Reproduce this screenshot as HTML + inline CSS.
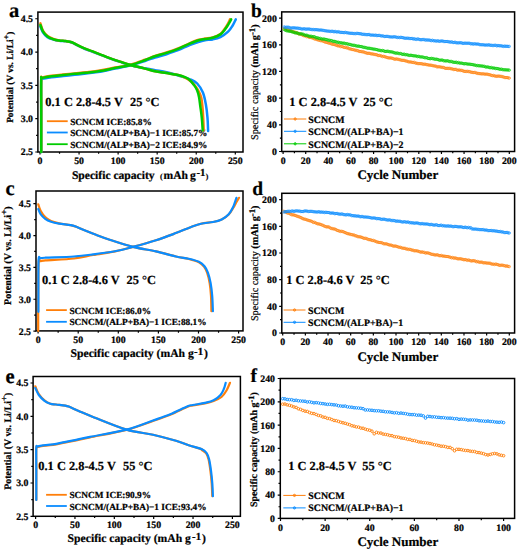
<!DOCTYPE html><html><head><meta charset="utf-8"><style>html,body{margin:0;padding:0;background:#fff;width:520px;height:550px;overflow:hidden}svg{display:block}</style></head><body><svg style="white-space:pre;text-rendering:geometricPrecision" width="520" height="550" viewBox="0 0 520 550" font-family="'Liberation Serif', serif">
<style>text{stroke:#000;stroke-width:0.22px;paint-order:stroke fill}</style>
<rect width="520" height="550" fill="#fff"/>
<rect x="37.9" y="12.1" width="205.10" height="139.90" fill="none" stroke="#000" stroke-width="1.5"/>
<path d="M40.00,152 V154.6M79.06,152 V154.6M118.12,152 V154.6M157.18,152 V154.6M196.24,152 V154.6M235.30,152 V154.6M59.53,152 V153.8M98.59,152 V153.8M137.65,152 V153.8M176.71,152 V153.8M215.77,152 V153.8M37.9,152.00 H35.3M37.9,118.69 H35.3M37.9,85.38 H35.3M37.9,52.06 H35.3M37.9,18.75 H35.3M37.9,135.34 H36.1M37.9,102.03 H36.1M37.9,68.72 H36.1M37.9,35.41 H36.1" stroke="#000" stroke-width="1.2" fill="none"/>
<text x="40.00" y="164.00" font-size="9.8" text-anchor="middle" font-weight="bold" >0</text>
<text x="79.06" y="164.00" font-size="9.8" text-anchor="middle" font-weight="bold" >50</text>
<text x="118.12" y="164.00" font-size="9.8" text-anchor="middle" font-weight="bold" >100</text>
<text x="157.18" y="164.00" font-size="9.8" text-anchor="middle" font-weight="bold" >150</text>
<text x="196.24" y="164.00" font-size="9.8" text-anchor="middle" font-weight="bold" >200</text>
<text x="235.30" y="164.00" font-size="9.8" text-anchor="middle" font-weight="bold" >250</text>
<text x="33.00" y="155.40" font-size="9.8" text-anchor="end" font-weight="bold" >2.5</text>
<text x="33.00" y="122.09" font-size="9.8" text-anchor="end" font-weight="bold" >3.0</text>
<text x="33.00" y="88.78" font-size="9.8" text-anchor="end" font-weight="bold" >3.5</text>
<text x="33.00" y="55.46" font-size="9.8" text-anchor="end" font-weight="bold" >4.0</text>
<text x="33.00" y="22.15" font-size="9.8" text-anchor="end" font-weight="bold" >4.5</text>
<text x="9.10" y="17.00" font-size="20.5" text-anchor="start" font-weight="bold" >a</text>
<text transform="translate(13.4,77.2) rotate(-90)" font-size="9.35" text-anchor="middle" font-weight="bold">Potential (V vs. Li/Li<tspan dy="-3.93" font-size="8.41">+</tspan><tspan dy="3.93">)</tspan></text>
<text x="71.9" y="179" font-size="11.6" font-weight="bold">Specific capacity</text>
<text x="160" y="178.6" font-size="7.8" font-weight="bold">(</text>
<text x="163.5" y="179" font-size="11.6" font-weight="bold">mAh</text>
<text x="190" y="179" font-size="11.6" font-weight="bold">g</text>
<text x="196.5" y="176.4" font-size="10.8" font-weight="bold">-1</text>
<text x="205.8" y="178.6" font-size="7.8" font-weight="bold">)</text>
<text x="45.30" y="105.8" font-size="12.4" font-weight="bold">0.1 C 2.8-4.5 V</text>
<text x="130.00" y="105.8" font-size="12.4" font-weight="bold">25 °C</text>
<path d="M46.9,121.2 H67.7" stroke="#FF7F0A" stroke-width="1.8"/>
<path d="M46.9,132.5 H67.7" stroke="#0A8CFF" stroke-width="1.8"/>
<path d="M46.9,144.2 H67.7" stroke="#00CC00" stroke-width="1.8"/>
<text x="70.20" y="124.60" font-size="9.3" text-anchor="start" font-weight="bold" >SCNCM ICE:85.8%</text>
<text x="70.20" y="136.00" font-size="9.3" text-anchor="start" font-weight="bold" >SCNCM/(ALP+BA)−1 ICE:85.7%</text>
<text x="70.20" y="147.50" font-size="9.3" text-anchor="start" font-weight="bold" >SCNCM/(ALP+BA)−2 ICE:84.9%</text>
<path d="M41.20,152.00 C41.20,145.00 41.20,121.83 41.20,110.00 C41.20,98.17 41.02,86.18 41.20,81.00 C41.38,75.82 40.58,79.53 42.30,78.90 C44.02,78.27 48.03,77.68 51.50,77.20 C54.97,76.72 59.25,76.40 63.10,76.00 C66.95,75.60 70.75,75.22 74.60,74.80 C78.45,74.38 81.97,74.00 86.20,73.50 C90.43,73.00 95.20,72.62 100.00,71.80 C104.80,70.98 109.90,69.67 115.00,68.60 C120.10,67.53 125.60,66.67 130.60,65.40 C135.60,64.13 140.93,62.32 145.00,61.00 C149.07,59.68 151.42,58.63 155.00,57.50 C158.58,56.37 162.65,55.42 166.50,54.20 C170.35,52.98 174.25,51.73 178.10,50.20 C181.95,48.67 186.15,46.38 189.60,45.00 C193.05,43.62 196.23,42.70 198.80,41.90 C201.37,41.10 202.68,40.62 205.00,40.20 C207.32,39.78 210.13,39.92 212.70,39.40 C215.27,38.88 217.83,38.38 220.40,37.10 C222.97,35.82 226.05,33.63 228.10,31.70 C230.15,29.77 231.42,27.55 232.70,25.50 C233.98,23.45 235.28,20.42 235.80,19.40" fill="none" stroke="#0A8CFF" stroke-width="2.5" stroke-linecap="round" stroke-linejoin="round"/>
<path d="M40.40,26.50 C40.82,27.47 41.72,30.52 42.90,32.30 C44.08,34.08 45.77,35.98 47.50,37.20 C49.23,38.42 51.37,39.00 53.30,39.60 C55.23,40.20 56.98,40.52 59.10,40.80 C61.22,41.08 63.88,41.02 66.00,41.30 C68.12,41.58 69.88,41.80 71.80,42.50 C73.72,43.20 75.38,44.45 77.50,45.50 C79.62,46.55 82.08,47.78 84.50,48.80 C86.92,49.82 89.42,50.63 92.00,51.60 C94.58,52.57 97.17,53.52 100.00,54.60 C102.83,55.68 105.67,56.88 109.00,58.10 C112.33,59.32 116.40,60.72 120.00,61.90 C123.60,63.08 126.43,64.13 130.60,65.20 C134.77,66.27 140.93,67.47 145.00,68.30 C149.07,69.13 151.42,69.55 155.00,70.20 C158.58,70.85 162.33,71.23 166.50,72.20 C170.67,73.17 176.08,74.82 180.00,76.00 C183.92,77.18 187.13,78.05 190.00,79.30 C192.87,80.55 195.05,81.28 197.20,83.50 C199.35,85.72 201.47,89.17 202.90,92.60 C204.33,96.03 205.03,99.90 205.80,104.10 C206.57,108.30 207.12,113.32 207.50,117.80 C207.88,122.28 208.00,128.80 208.10,131.00" fill="none" stroke="#0A8CFF" stroke-width="2.5" stroke-linecap="round" stroke-linejoin="round"/>
<path d="M41.20,151.60 C41.20,144.60 41.20,121.60 41.20,109.60 C41.20,97.60 41.02,84.95 41.20,79.60 C41.38,74.25 40.58,78.13 42.30,77.50 C44.02,76.87 48.03,76.28 51.50,75.80 C54.97,75.32 59.25,75.00 63.10,74.60 C66.95,74.20 70.75,73.78 74.60,73.40 C78.45,73.02 81.97,72.77 86.20,72.30 C90.43,71.83 95.20,71.38 100.00,70.60 C104.80,69.82 109.90,68.60 115.00,67.60 C120.10,66.60 125.60,65.90 130.60,64.60 C135.60,63.30 140.93,61.25 145.00,59.80 C149.07,58.35 151.42,57.12 155.00,55.90 C158.58,54.68 162.65,53.75 166.50,52.50 C170.35,51.25 174.25,49.93 178.10,48.40 C181.95,46.87 186.15,44.73 189.60,43.30 C193.05,41.87 196.23,40.58 198.80,39.80 C201.37,39.02 202.68,39.00 205.00,38.60 C207.32,38.20 210.13,38.17 212.70,37.40 C215.27,36.63 218.42,35.40 220.40,34.00 C222.38,32.60 223.40,30.60 224.60,29.00 C225.80,27.40 226.70,26.00 227.60,24.40 C228.50,22.80 229.60,20.23 230.00,19.40" fill="none" stroke="#FF7F0A" stroke-width="2.5" stroke-linecap="round" stroke-linejoin="round"/>
<path d="M40.40,23.40 C40.82,24.58 41.72,28.40 42.90,30.50 C44.08,32.60 45.77,34.58 47.50,36.00 C49.23,37.42 51.37,38.25 53.30,39.00 C55.23,39.75 56.98,40.15 59.10,40.50 C61.22,40.85 63.88,40.80 66.00,41.10 C68.12,41.40 69.88,41.62 71.80,42.30 C73.72,42.98 75.38,44.18 77.50,45.20 C79.62,46.22 82.08,47.40 84.50,48.40 C86.92,49.40 89.42,50.22 92.00,51.20 C94.58,52.18 97.17,53.20 100.00,54.30 C102.83,55.40 105.67,56.58 109.00,57.80 C112.33,59.02 116.40,60.40 120.00,61.60 C123.60,62.80 126.43,63.83 130.60,65.00 C134.77,66.17 140.93,67.55 145.00,68.60 C149.07,69.65 151.42,70.55 155.00,71.30 C158.58,72.05 162.65,72.48 166.50,73.10 C170.35,73.72 175.02,74.25 178.10,75.00 C181.18,75.75 182.85,76.52 185.00,77.60 C187.15,78.68 189.17,79.93 191.00,81.50 C192.83,83.07 194.58,85.08 196.00,87.00 C197.42,88.92 198.62,91.17 199.50,93.00 C200.38,94.83 200.82,95.77 201.30,98.00 C201.78,100.23 202.08,103.07 202.40,106.40 C202.72,109.73 202.98,114.00 203.20,118.00 C203.42,122.00 203.62,128.33 203.70,130.40" fill="none" stroke="#FF7F0A" stroke-width="2.5" stroke-linecap="round" stroke-linejoin="round"/>
<path d="M41.20,152.00 C41.20,145.00 41.20,122.00 41.20,110.00 C41.20,98.00 41.02,85.35 41.20,80.00 C41.38,74.65 40.58,78.53 42.30,77.90 C44.02,77.27 48.03,76.68 51.50,76.20 C54.97,75.72 59.25,75.40 63.10,75.00 C66.95,74.60 70.75,74.18 74.60,73.80 C78.45,73.42 81.97,73.17 86.20,72.70 C90.43,72.23 95.20,71.78 100.00,71.00 C104.80,70.22 109.90,69.00 115.00,68.00 C120.10,67.00 125.60,66.30 130.60,65.00 C135.60,63.70 140.93,61.65 145.00,60.20 C149.07,58.75 151.42,57.52 155.00,56.30 C158.58,55.08 162.65,54.15 166.50,52.90 C170.35,51.65 174.25,50.33 178.10,48.80 C181.95,47.27 186.15,45.13 189.60,43.70 C193.05,42.27 196.23,40.98 198.80,40.20 C201.37,39.42 202.68,39.40 205.00,39.00 C207.32,38.60 210.13,38.57 212.70,37.80 C215.27,37.03 218.35,35.80 220.40,34.40 C222.45,33.00 223.72,31.00 225.00,29.40 C226.28,27.80 227.07,26.47 228.10,24.80 C229.13,23.13 230.68,20.30 231.20,19.40" fill="none" stroke="#00CC00" stroke-width="2.5" stroke-linecap="round" stroke-linejoin="round"/>
<path d="M40.40,25.00 C40.82,26.05 41.72,29.38 42.90,31.30 C44.08,33.22 45.77,35.18 47.50,36.50 C49.23,37.82 51.37,38.53 53.30,39.20 C55.23,39.87 56.98,40.18 59.10,40.50 C61.22,40.82 63.88,40.80 66.00,41.10 C68.12,41.40 69.88,41.62 71.80,42.30 C73.72,42.98 75.38,44.18 77.50,45.20 C79.62,46.22 82.08,47.40 84.50,48.40 C86.92,49.40 89.42,50.22 92.00,51.20 C94.58,52.18 97.17,53.20 100.00,54.30 C102.83,55.40 105.67,56.58 109.00,57.80 C112.33,59.02 116.40,60.40 120.00,61.60 C123.60,62.80 126.43,63.83 130.60,65.00 C134.77,66.17 140.93,67.55 145.00,68.60 C149.07,69.65 151.42,70.55 155.00,71.30 C158.58,72.05 162.65,72.48 166.50,73.10 C170.35,73.72 175.02,74.32 178.10,75.00 C181.18,75.68 183.02,76.33 185.00,77.20 C186.98,78.07 188.50,78.90 190.00,80.20 C191.50,81.50 192.83,83.37 194.00,85.00 C195.17,86.63 196.17,88.00 197.00,90.00 C197.83,92.00 198.45,94.27 199.00,97.00 C199.55,99.73 199.83,102.93 200.30,106.40 C200.77,109.87 201.40,113.80 201.80,117.80 C202.20,121.80 202.55,128.30 202.70,130.40" fill="none" stroke="#00CC00" stroke-width="2.5" stroke-linecap="round" stroke-linejoin="round"/>
<rect x="281.7" y="11.9" width="232.90" height="139.60" fill="none" stroke="#000" stroke-width="1.5"/>
<path d="M283.10,151.5 V154.1M305.72,151.5 V154.1M328.34,151.5 V154.1M350.96,151.5 V154.1M373.58,151.5 V154.1M396.20,151.5 V154.1M418.82,151.5 V154.1M441.44,151.5 V154.1M464.06,151.5 V154.1M486.68,151.5 V154.1M509.30,151.5 V154.1M294.41,151.5 V153.3M317.03,151.5 V153.3M339.65,151.5 V153.3M362.27,151.5 V153.3M384.89,151.5 V153.3M407.51,151.5 V153.3M430.13,151.5 V153.3M452.75,151.5 V153.3M475.37,151.5 V153.3M497.99,151.5 V153.3M281.7,151.50 H279.09999999999997M281.7,124.82 H279.09999999999997M281.7,98.14 H279.09999999999997M281.7,71.46 H279.09999999999997M281.7,44.78 H279.09999999999997M281.7,18.10 H279.09999999999997M281.7,138.16 H279.9M281.7,111.48 H279.9M281.7,84.80 H279.9M281.7,58.12 H279.9M281.7,31.44 H279.9" stroke="#000" stroke-width="1.2" fill="none"/>
<text x="283.10" y="164.20" font-size="9.8" text-anchor="middle" font-weight="bold" >0</text>
<text x="305.72" y="164.20" font-size="9.8" text-anchor="middle" font-weight="bold" >20</text>
<text x="328.34" y="164.20" font-size="9.8" text-anchor="middle" font-weight="bold" >40</text>
<text x="350.96" y="164.20" font-size="9.8" text-anchor="middle" font-weight="bold" >60</text>
<text x="373.58" y="164.20" font-size="9.8" text-anchor="middle" font-weight="bold" >80</text>
<text x="396.20" y="164.20" font-size="9.8" text-anchor="middle" font-weight="bold" >100</text>
<text x="418.82" y="164.20" font-size="9.8" text-anchor="middle" font-weight="bold" >120</text>
<text x="441.44" y="164.20" font-size="9.8" text-anchor="middle" font-weight="bold" >140</text>
<text x="464.06" y="164.20" font-size="9.8" text-anchor="middle" font-weight="bold" >160</text>
<text x="486.68" y="164.20" font-size="9.8" text-anchor="middle" font-weight="bold" >180</text>
<text x="509.30" y="164.20" font-size="9.8" text-anchor="middle" font-weight="bold" >200</text>
<text x="276.80" y="154.90" font-size="9.8" text-anchor="end" font-weight="bold" >0</text>
<text x="276.80" y="128.22" font-size="9.8" text-anchor="end" font-weight="bold" >40</text>
<text x="276.80" y="101.54" font-size="9.8" text-anchor="end" font-weight="bold" >80</text>
<text x="276.80" y="74.86" font-size="9.8" text-anchor="end" font-weight="bold" >120</text>
<text x="276.80" y="48.18" font-size="9.8" text-anchor="end" font-weight="bold" >160</text>
<text x="276.80" y="21.50" font-size="9.8" text-anchor="end" font-weight="bold" >200</text>
<text x="251.00" y="16.60" font-size="19.5" text-anchor="start" font-weight="bold" >b</text>
<text transform="translate(257.8,82.2) rotate(-90)" font-size="10.2" text-anchor="middle" font-weight="normal">Specific capacity <tspan font-weight="bold">(mAh g<tspan dy="-3.26" font-size="8.67">-1</tspan><tspan dy="3.26">)</tspan></tspan></text>
<text x="357.40" y="178.70" font-size="13.05" text-anchor="start" font-weight="bold" >Cycle Number</text>
<text x="289.30" y="105.8" font-size="12.4" font-weight="bold">1 C 2.8-4.5 V</text>
<text x="363.20" y="105.8" font-size="12.4" font-weight="bold">25 °C</text>
<path d="M284,119 H306.3" stroke="#FF7F0A" stroke-width="1.0"/>
<circle cx="295.15" cy="119" r="1.15" fill="#FF7F0A" fill-opacity="0.45" stroke="#FF7F0A" stroke-width="0.85"/>
<path d="M284,131.3 H306.3" stroke="#0A8CFF" stroke-width="1.0"/>
<circle cx="295.15" cy="131.3" r="1.15" fill="#0A8CFF" fill-opacity="0.45" stroke="#0A8CFF" stroke-width="0.85"/>
<path d="M284,143.8 H306.3" stroke="#00CC00" stroke-width="1.0"/>
<circle cx="295.15" cy="143.8" r="1.15" fill="#00CC00" fill-opacity="0.45" stroke="#00CC00" stroke-width="0.85"/>
<text x="308.30" y="122.90" font-size="9.9" text-anchor="start" font-weight="bold" >SCNCM</text>
<text x="308.30" y="135.20" font-size="9.9" text-anchor="start" font-weight="bold" >SCNCM/(ALP+BA)−1</text>
<text x="308.30" y="147.50" font-size="9.9" text-anchor="start" font-weight="bold" >SCNCM/(ALP+BA)−2</text>
<path d="M283.03,28.52 a1.2,1.2 0 1,0 2.40,0 a1.2,1.2 0 1,0 -2.40,0 M284.16,28.81 a1.2,1.2 0 1,0 2.40,0 a1.2,1.2 0 1,0 -2.40,0 M285.29,29.57 a1.2,1.2 0 1,0 2.40,0 a1.2,1.2 0 1,0 -2.40,0 M286.42,29.58 a1.2,1.2 0 1,0 2.40,0 a1.2,1.2 0 1,0 -2.40,0 M287.56,30.30 a1.2,1.2 0 1,0 2.40,0 a1.2,1.2 0 1,0 -2.40,0 M288.69,30.59 a1.2,1.2 0 1,0 2.40,0 a1.2,1.2 0 1,0 -2.40,0 M289.82,30.77 a1.2,1.2 0 1,0 2.40,0 a1.2,1.2 0 1,0 -2.40,0 M290.95,31.48 a1.2,1.2 0 1,0 2.40,0 a1.2,1.2 0 1,0 -2.40,0 M292.08,31.55 a1.2,1.2 0 1,0 2.40,0 a1.2,1.2 0 1,0 -2.40,0 M293.21,32.22 a1.2,1.2 0 1,0 2.40,0 a1.2,1.2 0 1,0 -2.40,0 M294.34,32.35 a1.2,1.2 0 1,0 2.40,0 a1.2,1.2 0 1,0 -2.40,0 M295.47,32.75 a1.2,1.2 0 1,0 2.40,0 a1.2,1.2 0 1,0 -2.40,0 M296.60,33.37 a1.2,1.2 0 1,0 2.40,0 a1.2,1.2 0 1,0 -2.40,0 M297.73,34.03 a1.2,1.2 0 1,0 2.40,0 a1.2,1.2 0 1,0 -2.40,0 M298.87,33.92 a1.2,1.2 0 1,0 2.40,0 a1.2,1.2 0 1,0 -2.40,0 M300.00,34.37 a1.2,1.2 0 1,0 2.40,0 a1.2,1.2 0 1,0 -2.40,0 M301.13,35.03 a1.2,1.2 0 1,0 2.40,0 a1.2,1.2 0 1,0 -2.40,0 M302.26,35.62 a1.2,1.2 0 1,0 2.40,0 a1.2,1.2 0 1,0 -2.40,0 M303.39,35.73 a1.2,1.2 0 1,0 2.40,0 a1.2,1.2 0 1,0 -2.40,0 M304.52,35.98 a1.2,1.2 0 1,0 2.40,0 a1.2,1.2 0 1,0 -2.40,0 M305.65,36.75 a1.2,1.2 0 1,0 2.40,0 a1.2,1.2 0 1,0 -2.40,0 M306.78,36.46 a1.2,1.2 0 1,0 2.40,0 a1.2,1.2 0 1,0 -2.40,0 M307.91,37.39 a1.2,1.2 0 1,0 2.40,0 a1.2,1.2 0 1,0 -2.40,0 M309.04,37.35 a1.2,1.2 0 1,0 2.40,0 a1.2,1.2 0 1,0 -2.40,0 M310.18,37.60 a1.2,1.2 0 1,0 2.40,0 a1.2,1.2 0 1,0 -2.40,0 M311.31,37.94 a1.2,1.2 0 1,0 2.40,0 a1.2,1.2 0 1,0 -2.40,0 M312.44,38.43 a1.2,1.2 0 1,0 2.40,0 a1.2,1.2 0 1,0 -2.40,0 M313.57,39.13 a1.2,1.2 0 1,0 2.40,0 a1.2,1.2 0 1,0 -2.40,0 M314.70,39.03 a1.2,1.2 0 1,0 2.40,0 a1.2,1.2 0 1,0 -2.40,0 M315.83,39.66 a1.2,1.2 0 1,0 2.40,0 a1.2,1.2 0 1,0 -2.40,0 M316.96,40.04 a1.2,1.2 0 1,0 2.40,0 a1.2,1.2 0 1,0 -2.40,0 M318.09,40.20 a1.2,1.2 0 1,0 2.40,0 a1.2,1.2 0 1,0 -2.40,0 M319.22,40.66 a1.2,1.2 0 1,0 2.40,0 a1.2,1.2 0 1,0 -2.40,0 M320.35,40.66 a1.2,1.2 0 1,0 2.40,0 a1.2,1.2 0 1,0 -2.40,0 M321.49,40.99 a1.2,1.2 0 1,0 2.40,0 a1.2,1.2 0 1,0 -2.40,0 M322.62,41.42 a1.2,1.2 0 1,0 2.40,0 a1.2,1.2 0 1,0 -2.40,0 M323.75,42.09 a1.2,1.2 0 1,0 2.40,0 a1.2,1.2 0 1,0 -2.40,0 M324.88,42.24 a1.2,1.2 0 1,0 2.40,0 a1.2,1.2 0 1,0 -2.40,0 M326.01,42.48 a1.2,1.2 0 1,0 2.40,0 a1.2,1.2 0 1,0 -2.40,0 M327.14,43.00 a1.2,1.2 0 1,0 2.40,0 a1.2,1.2 0 1,0 -2.40,0 M328.27,43.23 a1.2,1.2 0 1,0 2.40,0 a1.2,1.2 0 1,0 -2.40,0 M329.40,43.44 a1.2,1.2 0 1,0 2.40,0 a1.2,1.2 0 1,0 -2.40,0 M330.53,44.11 a1.2,1.2 0 1,0 2.40,0 a1.2,1.2 0 1,0 -2.40,0 M331.66,44.35 a1.2,1.2 0 1,0 2.40,0 a1.2,1.2 0 1,0 -2.40,0 M332.80,44.35 a1.2,1.2 0 1,0 2.40,0 a1.2,1.2 0 1,0 -2.40,0 M333.93,44.89 a1.2,1.2 0 1,0 2.40,0 a1.2,1.2 0 1,0 -2.40,0 M335.06,45.17 a1.2,1.2 0 1,0 2.40,0 a1.2,1.2 0 1,0 -2.40,0 M336.19,45.72 a1.2,1.2 0 1,0 2.40,0 a1.2,1.2 0 1,0 -2.40,0 M337.32,45.93 a1.2,1.2 0 1,0 2.40,0 a1.2,1.2 0 1,0 -2.40,0 M338.45,45.92 a1.2,1.2 0 1,0 2.40,0 a1.2,1.2 0 1,0 -2.40,0 M339.58,46.71 a1.2,1.2 0 1,0 2.40,0 a1.2,1.2 0 1,0 -2.40,0 M340.71,46.41 a1.2,1.2 0 1,0 2.40,0 a1.2,1.2 0 1,0 -2.40,0 M341.84,46.92 a1.2,1.2 0 1,0 2.40,0 a1.2,1.2 0 1,0 -2.40,0 M342.97,47.45 a1.2,1.2 0 1,0 2.40,0 a1.2,1.2 0 1,0 -2.40,0 M344.11,47.32 a1.2,1.2 0 1,0 2.40,0 a1.2,1.2 0 1,0 -2.40,0 M345.24,47.85 a1.2,1.2 0 1,0 2.40,0 a1.2,1.2 0 1,0 -2.40,0 M346.37,47.83 a1.2,1.2 0 1,0 2.40,0 a1.2,1.2 0 1,0 -2.40,0 M347.50,48.56 a1.2,1.2 0 1,0 2.40,0 a1.2,1.2 0 1,0 -2.40,0 M348.63,48.91 a1.2,1.2 0 1,0 2.40,0 a1.2,1.2 0 1,0 -2.40,0 M349.76,49.06 a1.2,1.2 0 1,0 2.40,0 a1.2,1.2 0 1,0 -2.40,0 M350.89,49.56 a1.2,1.2 0 1,0 2.40,0 a1.2,1.2 0 1,0 -2.40,0 M352.02,49.45 a1.2,1.2 0 1,0 2.40,0 a1.2,1.2 0 1,0 -2.40,0 M353.15,50.00 a1.2,1.2 0 1,0 2.40,0 a1.2,1.2 0 1,0 -2.40,0 M354.28,50.21 a1.2,1.2 0 1,0 2.40,0 a1.2,1.2 0 1,0 -2.40,0 M355.42,50.47 a1.2,1.2 0 1,0 2.40,0 a1.2,1.2 0 1,0 -2.40,0 M356.55,50.66 a1.2,1.2 0 1,0 2.40,0 a1.2,1.2 0 1,0 -2.40,0 M357.68,51.21 a1.2,1.2 0 1,0 2.40,0 a1.2,1.2 0 1,0 -2.40,0 M358.81,51.55 a1.2,1.2 0 1,0 2.40,0 a1.2,1.2 0 1,0 -2.40,0 M359.94,51.49 a1.2,1.2 0 1,0 2.40,0 a1.2,1.2 0 1,0 -2.40,0 M361.07,51.89 a1.2,1.2 0 1,0 2.40,0 a1.2,1.2 0 1,0 -2.40,0 M362.20,51.74 a1.2,1.2 0 1,0 2.40,0 a1.2,1.2 0 1,0 -2.40,0 M363.33,52.45 a1.2,1.2 0 1,0 2.40,0 a1.2,1.2 0 1,0 -2.40,0 M364.46,52.68 a1.2,1.2 0 1,0 2.40,0 a1.2,1.2 0 1,0 -2.40,0 M365.59,53.18 a1.2,1.2 0 1,0 2.40,0 a1.2,1.2 0 1,0 -2.40,0 M366.73,53.33 a1.2,1.2 0 1,0 2.40,0 a1.2,1.2 0 1,0 -2.40,0 M367.86,53.21 a1.2,1.2 0 1,0 2.40,0 a1.2,1.2 0 1,0 -2.40,0 M368.99,53.54 a1.2,1.2 0 1,0 2.40,0 a1.2,1.2 0 1,0 -2.40,0 M370.12,53.99 a1.2,1.2 0 1,0 2.40,0 a1.2,1.2 0 1,0 -2.40,0 M371.25,53.79 a1.2,1.2 0 1,0 2.40,0 a1.2,1.2 0 1,0 -2.40,0 M372.38,54.36 a1.2,1.2 0 1,0 2.40,0 a1.2,1.2 0 1,0 -2.40,0 M373.51,54.40 a1.2,1.2 0 1,0 2.40,0 a1.2,1.2 0 1,0 -2.40,0 M374.64,54.62 a1.2,1.2 0 1,0 2.40,0 a1.2,1.2 0 1,0 -2.40,0 M375.77,54.82 a1.2,1.2 0 1,0 2.40,0 a1.2,1.2 0 1,0 -2.40,0 M376.90,55.57 a1.2,1.2 0 1,0 2.40,0 a1.2,1.2 0 1,0 -2.40,0 M378.04,55.37 a1.2,1.2 0 1,0 2.40,0 a1.2,1.2 0 1,0 -2.40,0 M379.17,55.69 a1.2,1.2 0 1,0 2.40,0 a1.2,1.2 0 1,0 -2.40,0 M380.30,56.04 a1.2,1.2 0 1,0 2.40,0 a1.2,1.2 0 1,0 -2.40,0 M381.43,56.62 a1.2,1.2 0 1,0 2.40,0 a1.2,1.2 0 1,0 -2.40,0 M382.56,56.30 a1.2,1.2 0 1,0 2.40,0 a1.2,1.2 0 1,0 -2.40,0 M383.69,56.80 a1.2,1.2 0 1,0 2.40,0 a1.2,1.2 0 1,0 -2.40,0 M384.82,57.11 a1.2,1.2 0 1,0 2.40,0 a1.2,1.2 0 1,0 -2.40,0 M385.95,57.58 a1.2,1.2 0 1,0 2.40,0 a1.2,1.2 0 1,0 -2.40,0 M387.08,57.77 a1.2,1.2 0 1,0 2.40,0 a1.2,1.2 0 1,0 -2.40,0 M388.21,58.03 a1.2,1.2 0 1,0 2.40,0 a1.2,1.2 0 1,0 -2.40,0 M389.35,57.86 a1.2,1.2 0 1,0 2.40,0 a1.2,1.2 0 1,0 -2.40,0 M390.48,58.18 a1.2,1.2 0 1,0 2.40,0 a1.2,1.2 0 1,0 -2.40,0 M391.61,58.37 a1.2,1.2 0 1,0 2.40,0 a1.2,1.2 0 1,0 -2.40,0 M392.74,58.97 a1.2,1.2 0 1,0 2.40,0 a1.2,1.2 0 1,0 -2.40,0 M393.87,59.25 a1.2,1.2 0 1,0 2.40,0 a1.2,1.2 0 1,0 -2.40,0 M395.00,58.91 a1.2,1.2 0 1,0 2.40,0 a1.2,1.2 0 1,0 -2.40,0 M396.13,59.15 a1.2,1.2 0 1,0 2.40,0 a1.2,1.2 0 1,0 -2.40,0 M397.26,59.42 a1.2,1.2 0 1,0 2.40,0 a1.2,1.2 0 1,0 -2.40,0 M398.39,59.64 a1.2,1.2 0 1,0 2.40,0 a1.2,1.2 0 1,0 -2.40,0 M399.52,60.04 a1.2,1.2 0 1,0 2.40,0 a1.2,1.2 0 1,0 -2.40,0 M400.66,60.33 a1.2,1.2 0 1,0 2.40,0 a1.2,1.2 0 1,0 -2.40,0 M401.79,60.32 a1.2,1.2 0 1,0 2.40,0 a1.2,1.2 0 1,0 -2.40,0 M402.92,60.36 a1.2,1.2 0 1,0 2.40,0 a1.2,1.2 0 1,0 -2.40,0 M404.05,60.86 a1.2,1.2 0 1,0 2.40,0 a1.2,1.2 0 1,0 -2.40,0 M405.18,61.04 a1.2,1.2 0 1,0 2.40,0 a1.2,1.2 0 1,0 -2.40,0 M406.31,61.40 a1.2,1.2 0 1,0 2.40,0 a1.2,1.2 0 1,0 -2.40,0 M407.44,61.88 a1.2,1.2 0 1,0 2.40,0 a1.2,1.2 0 1,0 -2.40,0 M408.57,61.91 a1.2,1.2 0 1,0 2.40,0 a1.2,1.2 0 1,0 -2.40,0 M409.70,62.00 a1.2,1.2 0 1,0 2.40,0 a1.2,1.2 0 1,0 -2.40,0 M410.83,62.28 a1.2,1.2 0 1,0 2.40,0 a1.2,1.2 0 1,0 -2.40,0 M411.97,62.53 a1.2,1.2 0 1,0 2.40,0 a1.2,1.2 0 1,0 -2.40,0 M413.10,62.30 a1.2,1.2 0 1,0 2.40,0 a1.2,1.2 0 1,0 -2.40,0 M414.23,63.10 a1.2,1.2 0 1,0 2.40,0 a1.2,1.2 0 1,0 -2.40,0 M415.36,63.23 a1.2,1.2 0 1,0 2.40,0 a1.2,1.2 0 1,0 -2.40,0 M416.49,63.50 a1.2,1.2 0 1,0 2.40,0 a1.2,1.2 0 1,0 -2.40,0 M417.62,63.65 a1.2,1.2 0 1,0 2.40,0 a1.2,1.2 0 1,0 -2.40,0 M418.75,63.57 a1.2,1.2 0 1,0 2.40,0 a1.2,1.2 0 1,0 -2.40,0 M419.88,63.77 a1.2,1.2 0 1,0 2.40,0 a1.2,1.2 0 1,0 -2.40,0 M421.01,63.77 a1.2,1.2 0 1,0 2.40,0 a1.2,1.2 0 1,0 -2.40,0 M422.14,64.34 a1.2,1.2 0 1,0 2.40,0 a1.2,1.2 0 1,0 -2.40,0 M423.28,64.14 a1.2,1.2 0 1,0 2.40,0 a1.2,1.2 0 1,0 -2.40,0 M424.41,64.34 a1.2,1.2 0 1,0 2.40,0 a1.2,1.2 0 1,0 -2.40,0 M425.54,64.64 a1.2,1.2 0 1,0 2.40,0 a1.2,1.2 0 1,0 -2.40,0 M426.67,64.80 a1.2,1.2 0 1,0 2.40,0 a1.2,1.2 0 1,0 -2.40,0 M427.80,65.12 a1.2,1.2 0 1,0 2.40,0 a1.2,1.2 0 1,0 -2.40,0 M428.93,65.12 a1.2,1.2 0 1,0 2.40,0 a1.2,1.2 0 1,0 -2.40,0 M430.06,65.28 a1.2,1.2 0 1,0 2.40,0 a1.2,1.2 0 1,0 -2.40,0 M431.19,65.58 a1.2,1.2 0 1,0 2.40,0 a1.2,1.2 0 1,0 -2.40,0 M432.32,65.74 a1.2,1.2 0 1,0 2.40,0 a1.2,1.2 0 1,0 -2.40,0 M433.45,66.11 a1.2,1.2 0 1,0 2.40,0 a1.2,1.2 0 1,0 -2.40,0 M434.59,66.07 a1.2,1.2 0 1,0 2.40,0 a1.2,1.2 0 1,0 -2.40,0 M435.72,66.85 a1.2,1.2 0 1,0 2.40,0 a1.2,1.2 0 1,0 -2.40,0 M436.85,66.86 a1.2,1.2 0 1,0 2.40,0 a1.2,1.2 0 1,0 -2.40,0 M437.98,66.72 a1.2,1.2 0 1,0 2.40,0 a1.2,1.2 0 1,0 -2.40,0 M439.11,66.98 a1.2,1.2 0 1,0 2.40,0 a1.2,1.2 0 1,0 -2.40,0 M440.24,67.24 a1.2,1.2 0 1,0 2.40,0 a1.2,1.2 0 1,0 -2.40,0 M441.37,67.44 a1.2,1.2 0 1,0 2.40,0 a1.2,1.2 0 1,0 -2.40,0 M442.50,67.46 a1.2,1.2 0 1,0 2.40,0 a1.2,1.2 0 1,0 -2.40,0 M443.63,68.15 a1.2,1.2 0 1,0 2.40,0 a1.2,1.2 0 1,0 -2.40,0 M444.76,68.44 a1.2,1.2 0 1,0 2.40,0 a1.2,1.2 0 1,0 -2.40,0 M445.90,68.25 a1.2,1.2 0 1,0 2.40,0 a1.2,1.2 0 1,0 -2.40,0 M447.03,68.45 a1.2,1.2 0 1,0 2.40,0 a1.2,1.2 0 1,0 -2.40,0 M448.16,68.35 a1.2,1.2 0 1,0 2.40,0 a1.2,1.2 0 1,0 -2.40,0 M449.29,68.55 a1.2,1.2 0 1,0 2.40,0 a1.2,1.2 0 1,0 -2.40,0 M450.42,68.90 a1.2,1.2 0 1,0 2.40,0 a1.2,1.2 0 1,0 -2.40,0 M451.55,69.03 a1.2,1.2 0 1,0 2.40,0 a1.2,1.2 0 1,0 -2.40,0 M452.68,69.60 a1.2,1.2 0 1,0 2.40,0 a1.2,1.2 0 1,0 -2.40,0 M453.81,69.32 a1.2,1.2 0 1,0 2.40,0 a1.2,1.2 0 1,0 -2.40,0 M454.94,69.40 a1.2,1.2 0 1,0 2.40,0 a1.2,1.2 0 1,0 -2.40,0 M456.07,70.23 a1.2,1.2 0 1,0 2.40,0 a1.2,1.2 0 1,0 -2.40,0 M457.21,70.11 a1.2,1.2 0 1,0 2.40,0 a1.2,1.2 0 1,0 -2.40,0 M458.34,70.02 a1.2,1.2 0 1,0 2.40,0 a1.2,1.2 0 1,0 -2.40,0 M459.47,70.48 a1.2,1.2 0 1,0 2.40,0 a1.2,1.2 0 1,0 -2.40,0 M460.60,70.30 a1.2,1.2 0 1,0 2.40,0 a1.2,1.2 0 1,0 -2.40,0 M461.73,70.83 a1.2,1.2 0 1,0 2.40,0 a1.2,1.2 0 1,0 -2.40,0 M462.86,71.32 a1.2,1.2 0 1,0 2.40,0 a1.2,1.2 0 1,0 -2.40,0 M463.99,71.41 a1.2,1.2 0 1,0 2.40,0 a1.2,1.2 0 1,0 -2.40,0 M465.12,71.47 a1.2,1.2 0 1,0 2.40,0 a1.2,1.2 0 1,0 -2.40,0 M466.25,71.35 a1.2,1.2 0 1,0 2.40,0 a1.2,1.2 0 1,0 -2.40,0 M467.38,71.59 a1.2,1.2 0 1,0 2.40,0 a1.2,1.2 0 1,0 -2.40,0 M468.52,71.63 a1.2,1.2 0 1,0 2.40,0 a1.2,1.2 0 1,0 -2.40,0 M469.65,72.23 a1.2,1.2 0 1,0 2.40,0 a1.2,1.2 0 1,0 -2.40,0 M470.78,72.24 a1.2,1.2 0 1,0 2.40,0 a1.2,1.2 0 1,0 -2.40,0 M471.91,72.58 a1.2,1.2 0 1,0 2.40,0 a1.2,1.2 0 1,0 -2.40,0 M473.04,72.44 a1.2,1.2 0 1,0 2.40,0 a1.2,1.2 0 1,0 -2.40,0 M474.17,72.54 a1.2,1.2 0 1,0 2.40,0 a1.2,1.2 0 1,0 -2.40,0 M475.30,73.13 a1.2,1.2 0 1,0 2.40,0 a1.2,1.2 0 1,0 -2.40,0 M476.43,73.42 a1.2,1.2 0 1,0 2.40,0 a1.2,1.2 0 1,0 -2.40,0 M477.56,73.50 a1.2,1.2 0 1,0 2.40,0 a1.2,1.2 0 1,0 -2.40,0 M478.69,73.64 a1.2,1.2 0 1,0 2.40,0 a1.2,1.2 0 1,0 -2.40,0 M479.83,73.82 a1.2,1.2 0 1,0 2.40,0 a1.2,1.2 0 1,0 -2.40,0 M480.96,73.94 a1.2,1.2 0 1,0 2.40,0 a1.2,1.2 0 1,0 -2.40,0 M482.09,73.75 a1.2,1.2 0 1,0 2.40,0 a1.2,1.2 0 1,0 -2.40,0 M483.22,74.13 a1.2,1.2 0 1,0 2.40,0 a1.2,1.2 0 1,0 -2.40,0 M484.35,74.19 a1.2,1.2 0 1,0 2.40,0 a1.2,1.2 0 1,0 -2.40,0 M485.48,74.13 a1.2,1.2 0 1,0 2.40,0 a1.2,1.2 0 1,0 -2.40,0 M486.61,74.30 a1.2,1.2 0 1,0 2.40,0 a1.2,1.2 0 1,0 -2.40,0 M487.74,74.65 a1.2,1.2 0 1,0 2.40,0 a1.2,1.2 0 1,0 -2.40,0 M488.87,74.81 a1.2,1.2 0 1,0 2.40,0 a1.2,1.2 0 1,0 -2.40,0 M490.00,75.28 a1.2,1.2 0 1,0 2.40,0 a1.2,1.2 0 1,0 -2.40,0 M491.14,75.64 a1.2,1.2 0 1,0 2.40,0 a1.2,1.2 0 1,0 -2.40,0 M492.27,75.45 a1.2,1.2 0 1,0 2.40,0 a1.2,1.2 0 1,0 -2.40,0 M493.40,75.97 a1.2,1.2 0 1,0 2.40,0 a1.2,1.2 0 1,0 -2.40,0 M494.53,76.17 a1.2,1.2 0 1,0 2.40,0 a1.2,1.2 0 1,0 -2.40,0 M495.66,76.32 a1.2,1.2 0 1,0 2.40,0 a1.2,1.2 0 1,0 -2.40,0 M496.79,76.08 a1.2,1.2 0 1,0 2.40,0 a1.2,1.2 0 1,0 -2.40,0 M497.92,76.15 a1.2,1.2 0 1,0 2.40,0 a1.2,1.2 0 1,0 -2.40,0 M499.05,76.33 a1.2,1.2 0 1,0 2.40,0 a1.2,1.2 0 1,0 -2.40,0 M500.18,76.48 a1.2,1.2 0 1,0 2.40,0 a1.2,1.2 0 1,0 -2.40,0 M501.31,76.65 a1.2,1.2 0 1,0 2.40,0 a1.2,1.2 0 1,0 -2.40,0 M502.44,77.12 a1.2,1.2 0 1,0 2.40,0 a1.2,1.2 0 1,0 -2.40,0 M503.58,77.48 a1.2,1.2 0 1,0 2.40,0 a1.2,1.2 0 1,0 -2.40,0 M504.71,77.61 a1.2,1.2 0 1,0 2.40,0 a1.2,1.2 0 1,0 -2.40,0 M505.84,77.53 a1.2,1.2 0 1,0 2.40,0 a1.2,1.2 0 1,0 -2.40,0 M506.97,77.83 a1.2,1.2 0 1,0 2.40,0 a1.2,1.2 0 1,0 -2.40,0 M508.10,78.10 a1.2,1.2 0 1,0 2.40,0 a1.2,1.2 0 1,0 -2.40,0 " fill="none" stroke="#FF7F0A" stroke-width="0.7"/>
<path d="M283.03,29.55 a1.2,1.2 0 1,0 2.40,0 a1.2,1.2 0 1,0 -2.40,0 M284.16,30.24 a1.2,1.2 0 1,0 2.40,0 a1.2,1.2 0 1,0 -2.40,0 M285.29,30.70 a1.2,1.2 0 1,0 2.40,0 a1.2,1.2 0 1,0 -2.40,0 M286.42,30.90 a1.2,1.2 0 1,0 2.40,0 a1.2,1.2 0 1,0 -2.40,0 M287.56,31.16 a1.2,1.2 0 1,0 2.40,0 a1.2,1.2 0 1,0 -2.40,0 M288.69,31.26 a1.2,1.2 0 1,0 2.40,0 a1.2,1.2 0 1,0 -2.40,0 M289.82,31.33 a1.2,1.2 0 1,0 2.40,0 a1.2,1.2 0 1,0 -2.40,0 M290.95,32.04 a1.2,1.2 0 1,0 2.40,0 a1.2,1.2 0 1,0 -2.40,0 M292.08,32.00 a1.2,1.2 0 1,0 2.40,0 a1.2,1.2 0 1,0 -2.40,0 M293.21,32.61 a1.2,1.2 0 1,0 2.40,0 a1.2,1.2 0 1,0 -2.40,0 M294.34,33.00 a1.2,1.2 0 1,0 2.40,0 a1.2,1.2 0 1,0 -2.40,0 M295.47,32.88 a1.2,1.2 0 1,0 2.40,0 a1.2,1.2 0 1,0 -2.40,0 M296.60,33.15 a1.2,1.2 0 1,0 2.40,0 a1.2,1.2 0 1,0 -2.40,0 M297.73,33.81 a1.2,1.2 0 1,0 2.40,0 a1.2,1.2 0 1,0 -2.40,0 M298.87,33.93 a1.2,1.2 0 1,0 2.40,0 a1.2,1.2 0 1,0 -2.40,0 M300.00,33.81 a1.2,1.2 0 1,0 2.40,0 a1.2,1.2 0 1,0 -2.40,0 M301.13,34.05 a1.2,1.2 0 1,0 2.40,0 a1.2,1.2 0 1,0 -2.40,0 M302.26,34.33 a1.2,1.2 0 1,0 2.40,0 a1.2,1.2 0 1,0 -2.40,0 M303.39,35.13 a1.2,1.2 0 1,0 2.40,0 a1.2,1.2 0 1,0 -2.40,0 M304.52,35.32 a1.2,1.2 0 1,0 2.40,0 a1.2,1.2 0 1,0 -2.40,0 M305.65,35.13 a1.2,1.2 0 1,0 2.40,0 a1.2,1.2 0 1,0 -2.40,0 M306.78,35.87 a1.2,1.2 0 1,0 2.40,0 a1.2,1.2 0 1,0 -2.40,0 M307.91,36.23 a1.2,1.2 0 1,0 2.40,0 a1.2,1.2 0 1,0 -2.40,0 M309.04,36.27 a1.2,1.2 0 1,0 2.40,0 a1.2,1.2 0 1,0 -2.40,0 M310.18,36.31 a1.2,1.2 0 1,0 2.40,0 a1.2,1.2 0 1,0 -2.40,0 M311.31,36.71 a1.2,1.2 0 1,0 2.40,0 a1.2,1.2 0 1,0 -2.40,0 M312.44,36.67 a1.2,1.2 0 1,0 2.40,0 a1.2,1.2 0 1,0 -2.40,0 M313.57,36.85 a1.2,1.2 0 1,0 2.40,0 a1.2,1.2 0 1,0 -2.40,0 M314.70,37.77 a1.2,1.2 0 1,0 2.40,0 a1.2,1.2 0 1,0 -2.40,0 M315.83,37.80 a1.2,1.2 0 1,0 2.40,0 a1.2,1.2 0 1,0 -2.40,0 M316.96,37.97 a1.2,1.2 0 1,0 2.40,0 a1.2,1.2 0 1,0 -2.40,0 M318.09,38.50 a1.2,1.2 0 1,0 2.40,0 a1.2,1.2 0 1,0 -2.40,0 M319.22,38.40 a1.2,1.2 0 1,0 2.40,0 a1.2,1.2 0 1,0 -2.40,0 M320.35,38.96 a1.2,1.2 0 1,0 2.40,0 a1.2,1.2 0 1,0 -2.40,0 M321.49,39.17 a1.2,1.2 0 1,0 2.40,0 a1.2,1.2 0 1,0 -2.40,0 M322.62,38.99 a1.2,1.2 0 1,0 2.40,0 a1.2,1.2 0 1,0 -2.40,0 M323.75,39.26 a1.2,1.2 0 1,0 2.40,0 a1.2,1.2 0 1,0 -2.40,0 M324.88,39.53 a1.2,1.2 0 1,0 2.40,0 a1.2,1.2 0 1,0 -2.40,0 M326.01,39.74 a1.2,1.2 0 1,0 2.40,0 a1.2,1.2 0 1,0 -2.40,0 M327.14,40.22 a1.2,1.2 0 1,0 2.40,0 a1.2,1.2 0 1,0 -2.40,0 M328.27,40.24 a1.2,1.2 0 1,0 2.40,0 a1.2,1.2 0 1,0 -2.40,0 M329.40,40.59 a1.2,1.2 0 1,0 2.40,0 a1.2,1.2 0 1,0 -2.40,0 M330.53,40.62 a1.2,1.2 0 1,0 2.40,0 a1.2,1.2 0 1,0 -2.40,0 M331.66,41.41 a1.2,1.2 0 1,0 2.40,0 a1.2,1.2 0 1,0 -2.40,0 M332.80,41.25 a1.2,1.2 0 1,0 2.40,0 a1.2,1.2 0 1,0 -2.40,0 M333.93,41.56 a1.2,1.2 0 1,0 2.40,0 a1.2,1.2 0 1,0 -2.40,0 M335.06,41.88 a1.2,1.2 0 1,0 2.40,0 a1.2,1.2 0 1,0 -2.40,0 M336.19,42.34 a1.2,1.2 0 1,0 2.40,0 a1.2,1.2 0 1,0 -2.40,0 M337.32,42.24 a1.2,1.2 0 1,0 2.40,0 a1.2,1.2 0 1,0 -2.40,0 M338.45,42.82 a1.2,1.2 0 1,0 2.40,0 a1.2,1.2 0 1,0 -2.40,0 M339.58,42.75 a1.2,1.2 0 1,0 2.40,0 a1.2,1.2 0 1,0 -2.40,0 M340.71,43.00 a1.2,1.2 0 1,0 2.40,0 a1.2,1.2 0 1,0 -2.40,0 M341.84,43.23 a1.2,1.2 0 1,0 2.40,0 a1.2,1.2 0 1,0 -2.40,0 M342.97,43.10 a1.2,1.2 0 1,0 2.40,0 a1.2,1.2 0 1,0 -2.40,0 M344.11,43.62 a1.2,1.2 0 1,0 2.40,0 a1.2,1.2 0 1,0 -2.40,0 M345.24,43.67 a1.2,1.2 0 1,0 2.40,0 a1.2,1.2 0 1,0 -2.40,0 M346.37,43.77 a1.2,1.2 0 1,0 2.40,0 a1.2,1.2 0 1,0 -2.40,0 M347.50,44.55 a1.2,1.2 0 1,0 2.40,0 a1.2,1.2 0 1,0 -2.40,0 M348.63,44.33 a1.2,1.2 0 1,0 2.40,0 a1.2,1.2 0 1,0 -2.40,0 M349.76,44.76 a1.2,1.2 0 1,0 2.40,0 a1.2,1.2 0 1,0 -2.40,0 M350.89,45.16 a1.2,1.2 0 1,0 2.40,0 a1.2,1.2 0 1,0 -2.40,0 M352.02,45.26 a1.2,1.2 0 1,0 2.40,0 a1.2,1.2 0 1,0 -2.40,0 M353.15,45.32 a1.2,1.2 0 1,0 2.40,0 a1.2,1.2 0 1,0 -2.40,0 M354.28,45.67 a1.2,1.2 0 1,0 2.40,0 a1.2,1.2 0 1,0 -2.40,0 M355.42,45.91 a1.2,1.2 0 1,0 2.40,0 a1.2,1.2 0 1,0 -2.40,0 M356.55,46.29 a1.2,1.2 0 1,0 2.40,0 a1.2,1.2 0 1,0 -2.40,0 M357.68,46.03 a1.2,1.2 0 1,0 2.40,0 a1.2,1.2 0 1,0 -2.40,0 M358.81,46.56 a1.2,1.2 0 1,0 2.40,0 a1.2,1.2 0 1,0 -2.40,0 M359.94,46.55 a1.2,1.2 0 1,0 2.40,0 a1.2,1.2 0 1,0 -2.40,0 M361.07,46.79 a1.2,1.2 0 1,0 2.40,0 a1.2,1.2 0 1,0 -2.40,0 M362.20,47.35 a1.2,1.2 0 1,0 2.40,0 a1.2,1.2 0 1,0 -2.40,0 M363.33,47.37 a1.2,1.2 0 1,0 2.40,0 a1.2,1.2 0 1,0 -2.40,0 M364.46,47.62 a1.2,1.2 0 1,0 2.40,0 a1.2,1.2 0 1,0 -2.40,0 M365.59,47.97 a1.2,1.2 0 1,0 2.40,0 a1.2,1.2 0 1,0 -2.40,0 M366.73,48.28 a1.2,1.2 0 1,0 2.40,0 a1.2,1.2 0 1,0 -2.40,0 M367.86,48.16 a1.2,1.2 0 1,0 2.40,0 a1.2,1.2 0 1,0 -2.40,0 M368.99,48.49 a1.2,1.2 0 1,0 2.40,0 a1.2,1.2 0 1,0 -2.40,0 M370.12,48.62 a1.2,1.2 0 1,0 2.40,0 a1.2,1.2 0 1,0 -2.40,0 M371.25,48.83 a1.2,1.2 0 1,0 2.40,0 a1.2,1.2 0 1,0 -2.40,0 M372.38,49.16 a1.2,1.2 0 1,0 2.40,0 a1.2,1.2 0 1,0 -2.40,0 M373.51,49.19 a1.2,1.2 0 1,0 2.40,0 a1.2,1.2 0 1,0 -2.40,0 M374.64,49.45 a1.2,1.2 0 1,0 2.40,0 a1.2,1.2 0 1,0 -2.40,0 M375.77,49.62 a1.2,1.2 0 1,0 2.40,0 a1.2,1.2 0 1,0 -2.40,0 M376.90,50.14 a1.2,1.2 0 1,0 2.40,0 a1.2,1.2 0 1,0 -2.40,0 M378.04,50.17 a1.2,1.2 0 1,0 2.40,0 a1.2,1.2 0 1,0 -2.40,0 M379.17,50.50 a1.2,1.2 0 1,0 2.40,0 a1.2,1.2 0 1,0 -2.40,0 M380.30,50.74 a1.2,1.2 0 1,0 2.40,0 a1.2,1.2 0 1,0 -2.40,0 M381.43,50.46 a1.2,1.2 0 1,0 2.40,0 a1.2,1.2 0 1,0 -2.40,0 M382.56,50.87 a1.2,1.2 0 1,0 2.40,0 a1.2,1.2 0 1,0 -2.40,0 M383.69,51.34 a1.2,1.2 0 1,0 2.40,0 a1.2,1.2 0 1,0 -2.40,0 M384.82,51.46 a1.2,1.2 0 1,0 2.40,0 a1.2,1.2 0 1,0 -2.40,0 M385.95,51.16 a1.2,1.2 0 1,0 2.40,0 a1.2,1.2 0 1,0 -2.40,0 M387.08,51.35 a1.2,1.2 0 1,0 2.40,0 a1.2,1.2 0 1,0 -2.40,0 M388.21,51.77 a1.2,1.2 0 1,0 2.40,0 a1.2,1.2 0 1,0 -2.40,0 M389.35,51.70 a1.2,1.2 0 1,0 2.40,0 a1.2,1.2 0 1,0 -2.40,0 M390.48,52.01 a1.2,1.2 0 1,0 2.40,0 a1.2,1.2 0 1,0 -2.40,0 M391.61,52.09 a1.2,1.2 0 1,0 2.40,0 a1.2,1.2 0 1,0 -2.40,0 M392.74,52.70 a1.2,1.2 0 1,0 2.40,0 a1.2,1.2 0 1,0 -2.40,0 M393.87,52.97 a1.2,1.2 0 1,0 2.40,0 a1.2,1.2 0 1,0 -2.40,0 M395.00,53.24 a1.2,1.2 0 1,0 2.40,0 a1.2,1.2 0 1,0 -2.40,0 M396.13,52.91 a1.2,1.2 0 1,0 2.40,0 a1.2,1.2 0 1,0 -2.40,0 M397.26,53.49 a1.2,1.2 0 1,0 2.40,0 a1.2,1.2 0 1,0 -2.40,0 M398.39,53.64 a1.2,1.2 0 1,0 2.40,0 a1.2,1.2 0 1,0 -2.40,0 M399.52,53.47 a1.2,1.2 0 1,0 2.40,0 a1.2,1.2 0 1,0 -2.40,0 M400.66,54.17 a1.2,1.2 0 1,0 2.40,0 a1.2,1.2 0 1,0 -2.40,0 M401.79,54.42 a1.2,1.2 0 1,0 2.40,0 a1.2,1.2 0 1,0 -2.40,0 M402.92,54.08 a1.2,1.2 0 1,0 2.40,0 a1.2,1.2 0 1,0 -2.40,0 M404.05,54.78 a1.2,1.2 0 1,0 2.40,0 a1.2,1.2 0 1,0 -2.40,0 M405.18,54.58 a1.2,1.2 0 1,0 2.40,0 a1.2,1.2 0 1,0 -2.40,0 M406.31,54.83 a1.2,1.2 0 1,0 2.40,0 a1.2,1.2 0 1,0 -2.40,0 M407.44,55.36 a1.2,1.2 0 1,0 2.40,0 a1.2,1.2 0 1,0 -2.40,0 M408.57,55.44 a1.2,1.2 0 1,0 2.40,0 a1.2,1.2 0 1,0 -2.40,0 M409.70,55.15 a1.2,1.2 0 1,0 2.40,0 a1.2,1.2 0 1,0 -2.40,0 M410.83,55.52 a1.2,1.2 0 1,0 2.40,0 a1.2,1.2 0 1,0 -2.40,0 M411.97,55.76 a1.2,1.2 0 1,0 2.40,0 a1.2,1.2 0 1,0 -2.40,0 M413.10,55.82 a1.2,1.2 0 1,0 2.40,0 a1.2,1.2 0 1,0 -2.40,0 M414.23,55.90 a1.2,1.2 0 1,0 2.40,0 a1.2,1.2 0 1,0 -2.40,0 M415.36,56.17 a1.2,1.2 0 1,0 2.40,0 a1.2,1.2 0 1,0 -2.40,0 M416.49,56.63 a1.2,1.2 0 1,0 2.40,0 a1.2,1.2 0 1,0 -2.40,0 M417.62,56.32 a1.2,1.2 0 1,0 2.40,0 a1.2,1.2 0 1,0 -2.40,0 M418.75,56.88 a1.2,1.2 0 1,0 2.40,0 a1.2,1.2 0 1,0 -2.40,0 M419.88,56.98 a1.2,1.2 0 1,0 2.40,0 a1.2,1.2 0 1,0 -2.40,0 M421.01,56.86 a1.2,1.2 0 1,0 2.40,0 a1.2,1.2 0 1,0 -2.40,0 M422.14,57.26 a1.2,1.2 0 1,0 2.40,0 a1.2,1.2 0 1,0 -2.40,0 M423.28,57.64 a1.2,1.2 0 1,0 2.40,0 a1.2,1.2 0 1,0 -2.40,0 M424.41,57.74 a1.2,1.2 0 1,0 2.40,0 a1.2,1.2 0 1,0 -2.40,0 M425.54,57.60 a1.2,1.2 0 1,0 2.40,0 a1.2,1.2 0 1,0 -2.40,0 M426.67,58.43 a1.2,1.2 0 1,0 2.40,0 a1.2,1.2 0 1,0 -2.40,0 M427.80,58.47 a1.2,1.2 0 1,0 2.40,0 a1.2,1.2 0 1,0 -2.40,0 M428.93,58.77 a1.2,1.2 0 1,0 2.40,0 a1.2,1.2 0 1,0 -2.40,0 M430.06,58.34 a1.2,1.2 0 1,0 2.40,0 a1.2,1.2 0 1,0 -2.40,0 M431.19,58.63 a1.2,1.2 0 1,0 2.40,0 a1.2,1.2 0 1,0 -2.40,0 M432.32,58.64 a1.2,1.2 0 1,0 2.40,0 a1.2,1.2 0 1,0 -2.40,0 M433.45,59.34 a1.2,1.2 0 1,0 2.40,0 a1.2,1.2 0 1,0 -2.40,0 M434.59,59.16 a1.2,1.2 0 1,0 2.40,0 a1.2,1.2 0 1,0 -2.40,0 M435.72,59.23 a1.2,1.2 0 1,0 2.40,0 a1.2,1.2 0 1,0 -2.40,0 M436.85,59.61 a1.2,1.2 0 1,0 2.40,0 a1.2,1.2 0 1,0 -2.40,0 M437.98,60.13 a1.2,1.2 0 1,0 2.40,0 a1.2,1.2 0 1,0 -2.40,0 M439.11,60.24 a1.2,1.2 0 1,0 2.40,0 a1.2,1.2 0 1,0 -2.40,0 M440.24,60.02 a1.2,1.2 0 1,0 2.40,0 a1.2,1.2 0 1,0 -2.40,0 M441.37,60.11 a1.2,1.2 0 1,0 2.40,0 a1.2,1.2 0 1,0 -2.40,0 M442.50,60.83 a1.2,1.2 0 1,0 2.40,0 a1.2,1.2 0 1,0 -2.40,0 M443.63,60.75 a1.2,1.2 0 1,0 2.40,0 a1.2,1.2 0 1,0 -2.40,0 M444.76,61.02 a1.2,1.2 0 1,0 2.40,0 a1.2,1.2 0 1,0 -2.40,0 M445.90,60.76 a1.2,1.2 0 1,0 2.40,0 a1.2,1.2 0 1,0 -2.40,0 M447.03,60.91 a1.2,1.2 0 1,0 2.40,0 a1.2,1.2 0 1,0 -2.40,0 M448.16,61.53 a1.2,1.2 0 1,0 2.40,0 a1.2,1.2 0 1,0 -2.40,0 M449.29,61.51 a1.2,1.2 0 1,0 2.40,0 a1.2,1.2 0 1,0 -2.40,0 M450.42,61.44 a1.2,1.2 0 1,0 2.40,0 a1.2,1.2 0 1,0 -2.40,0 M451.55,62.21 a1.2,1.2 0 1,0 2.40,0 a1.2,1.2 0 1,0 -2.40,0 M452.68,62.17 a1.2,1.2 0 1,0 2.40,0 a1.2,1.2 0 1,0 -2.40,0 M453.81,62.46 a1.2,1.2 0 1,0 2.40,0 a1.2,1.2 0 1,0 -2.40,0 M454.94,62.13 a1.2,1.2 0 1,0 2.40,0 a1.2,1.2 0 1,0 -2.40,0 M456.07,62.84 a1.2,1.2 0 1,0 2.40,0 a1.2,1.2 0 1,0 -2.40,0 M457.21,62.46 a1.2,1.2 0 1,0 2.40,0 a1.2,1.2 0 1,0 -2.40,0 M458.34,63.19 a1.2,1.2 0 1,0 2.40,0 a1.2,1.2 0 1,0 -2.40,0 M459.47,63.07 a1.2,1.2 0 1,0 2.40,0 a1.2,1.2 0 1,0 -2.40,0 M460.60,63.16 a1.2,1.2 0 1,0 2.40,0 a1.2,1.2 0 1,0 -2.40,0 M461.73,63.48 a1.2,1.2 0 1,0 2.40,0 a1.2,1.2 0 1,0 -2.40,0 M462.86,63.91 a1.2,1.2 0 1,0 2.40,0 a1.2,1.2 0 1,0 -2.40,0 M463.99,63.62 a1.2,1.2 0 1,0 2.40,0 a1.2,1.2 0 1,0 -2.40,0 M465.12,63.69 a1.2,1.2 0 1,0 2.40,0 a1.2,1.2 0 1,0 -2.40,0 M466.25,64.14 a1.2,1.2 0 1,0 2.40,0 a1.2,1.2 0 1,0 -2.40,0 M467.38,64.11 a1.2,1.2 0 1,0 2.40,0 a1.2,1.2 0 1,0 -2.40,0 M468.52,64.19 a1.2,1.2 0 1,0 2.40,0 a1.2,1.2 0 1,0 -2.40,0 M469.65,64.39 a1.2,1.2 0 1,0 2.40,0 a1.2,1.2 0 1,0 -2.40,0 M470.78,64.48 a1.2,1.2 0 1,0 2.40,0 a1.2,1.2 0 1,0 -2.40,0 M471.91,64.76 a1.2,1.2 0 1,0 2.40,0 a1.2,1.2 0 1,0 -2.40,0 M473.04,65.00 a1.2,1.2 0 1,0 2.40,0 a1.2,1.2 0 1,0 -2.40,0 M474.17,65.17 a1.2,1.2 0 1,0 2.40,0 a1.2,1.2 0 1,0 -2.40,0 M475.30,65.66 a1.2,1.2 0 1,0 2.40,0 a1.2,1.2 0 1,0 -2.40,0 M476.43,65.50 a1.2,1.2 0 1,0 2.40,0 a1.2,1.2 0 1,0 -2.40,0 M477.56,65.81 a1.2,1.2 0 1,0 2.40,0 a1.2,1.2 0 1,0 -2.40,0 M478.69,65.76 a1.2,1.2 0 1,0 2.40,0 a1.2,1.2 0 1,0 -2.40,0 M479.83,66.04 a1.2,1.2 0 1,0 2.40,0 a1.2,1.2 0 1,0 -2.40,0 M480.96,65.98 a1.2,1.2 0 1,0 2.40,0 a1.2,1.2 0 1,0 -2.40,0 M482.09,66.32 a1.2,1.2 0 1,0 2.40,0 a1.2,1.2 0 1,0 -2.40,0 M483.22,66.32 a1.2,1.2 0 1,0 2.40,0 a1.2,1.2 0 1,0 -2.40,0 M484.35,66.99 a1.2,1.2 0 1,0 2.40,0 a1.2,1.2 0 1,0 -2.40,0 M485.48,67.03 a1.2,1.2 0 1,0 2.40,0 a1.2,1.2 0 1,0 -2.40,0 M486.61,66.95 a1.2,1.2 0 1,0 2.40,0 a1.2,1.2 0 1,0 -2.40,0 M487.74,67.32 a1.2,1.2 0 1,0 2.40,0 a1.2,1.2 0 1,0 -2.40,0 M488.87,67.81 a1.2,1.2 0 1,0 2.40,0 a1.2,1.2 0 1,0 -2.40,0 M490.00,67.40 a1.2,1.2 0 1,0 2.40,0 a1.2,1.2 0 1,0 -2.40,0 M491.14,68.07 a1.2,1.2 0 1,0 2.40,0 a1.2,1.2 0 1,0 -2.40,0 M492.27,67.97 a1.2,1.2 0 1,0 2.40,0 a1.2,1.2 0 1,0 -2.40,0 M493.40,68.18 a1.2,1.2 0 1,0 2.40,0 a1.2,1.2 0 1,0 -2.40,0 M494.53,68.59 a1.2,1.2 0 1,0 2.40,0 a1.2,1.2 0 1,0 -2.40,0 M495.66,68.45 a1.2,1.2 0 1,0 2.40,0 a1.2,1.2 0 1,0 -2.40,0 M496.79,68.70 a1.2,1.2 0 1,0 2.40,0 a1.2,1.2 0 1,0 -2.40,0 M497.92,69.00 a1.2,1.2 0 1,0 2.40,0 a1.2,1.2 0 1,0 -2.40,0 M499.05,69.38 a1.2,1.2 0 1,0 2.40,0 a1.2,1.2 0 1,0 -2.40,0 M500.18,69.10 a1.2,1.2 0 1,0 2.40,0 a1.2,1.2 0 1,0 -2.40,0 M501.31,69.62 a1.2,1.2 0 1,0 2.40,0 a1.2,1.2 0 1,0 -2.40,0 M502.44,69.70 a1.2,1.2 0 1,0 2.40,0 a1.2,1.2 0 1,0 -2.40,0 M503.58,69.82 a1.2,1.2 0 1,0 2.40,0 a1.2,1.2 0 1,0 -2.40,0 M504.71,69.83 a1.2,1.2 0 1,0 2.40,0 a1.2,1.2 0 1,0 -2.40,0 M505.84,69.97 a1.2,1.2 0 1,0 2.40,0 a1.2,1.2 0 1,0 -2.40,0 M506.97,69.93 a1.2,1.2 0 1,0 2.40,0 a1.2,1.2 0 1,0 -2.40,0 M508.10,70.16 a1.2,1.2 0 1,0 2.40,0 a1.2,1.2 0 1,0 -2.40,0 " fill="none" stroke="#00CC00" stroke-width="0.7"/>
<path d="M283.03,26.88 a1.2,1.2 0 1,0 2.40,0 a1.2,1.2 0 1,0 -2.40,0 M284.16,27.44 a1.2,1.2 0 1,0 2.40,0 a1.2,1.2 0 1,0 -2.40,0 M285.29,27.19 a1.2,1.2 0 1,0 2.40,0 a1.2,1.2 0 1,0 -2.40,0 M286.42,27.23 a1.2,1.2 0 1,0 2.40,0 a1.2,1.2 0 1,0 -2.40,0 M287.56,27.27 a1.2,1.2 0 1,0 2.40,0 a1.2,1.2 0 1,0 -2.40,0 M288.69,27.89 a1.2,1.2 0 1,0 2.40,0 a1.2,1.2 0 1,0 -2.40,0 M289.82,28.01 a1.2,1.2 0 1,0 2.40,0 a1.2,1.2 0 1,0 -2.40,0 M290.95,27.96 a1.2,1.2 0 1,0 2.40,0 a1.2,1.2 0 1,0 -2.40,0 M292.08,27.79 a1.2,1.2 0 1,0 2.40,0 a1.2,1.2 0 1,0 -2.40,0 M293.21,27.86 a1.2,1.2 0 1,0 2.40,0 a1.2,1.2 0 1,0 -2.40,0 M294.34,27.99 a1.2,1.2 0 1,0 2.40,0 a1.2,1.2 0 1,0 -2.40,0 M295.47,28.20 a1.2,1.2 0 1,0 2.40,0 a1.2,1.2 0 1,0 -2.40,0 M296.60,28.09 a1.2,1.2 0 1,0 2.40,0 a1.2,1.2 0 1,0 -2.40,0 M297.73,28.39 a1.2,1.2 0 1,0 2.40,0 a1.2,1.2 0 1,0 -2.40,0 M298.87,28.36 a1.2,1.2 0 1,0 2.40,0 a1.2,1.2 0 1,0 -2.40,0 M300.00,28.94 a1.2,1.2 0 1,0 2.40,0 a1.2,1.2 0 1,0 -2.40,0 M301.13,29.05 a1.2,1.2 0 1,0 2.40,0 a1.2,1.2 0 1,0 -2.40,0 M302.26,28.85 a1.2,1.2 0 1,0 2.40,0 a1.2,1.2 0 1,0 -2.40,0 M303.39,28.73 a1.2,1.2 0 1,0 2.40,0 a1.2,1.2 0 1,0 -2.40,0 M304.52,29.34 a1.2,1.2 0 1,0 2.40,0 a1.2,1.2 0 1,0 -2.40,0 M305.65,28.98 a1.2,1.2 0 1,0 2.40,0 a1.2,1.2 0 1,0 -2.40,0 M306.78,29.11 a1.2,1.2 0 1,0 2.40,0 a1.2,1.2 0 1,0 -2.40,0 M307.91,28.96 a1.2,1.2 0 1,0 2.40,0 a1.2,1.2 0 1,0 -2.40,0 M309.04,29.33 a1.2,1.2 0 1,0 2.40,0 a1.2,1.2 0 1,0 -2.40,0 M310.18,29.49 a1.2,1.2 0 1,0 2.40,0 a1.2,1.2 0 1,0 -2.40,0 M311.31,29.61 a1.2,1.2 0 1,0 2.40,0 a1.2,1.2 0 1,0 -2.40,0 M312.44,29.50 a1.2,1.2 0 1,0 2.40,0 a1.2,1.2 0 1,0 -2.40,0 M313.57,29.81 a1.2,1.2 0 1,0 2.40,0 a1.2,1.2 0 1,0 -2.40,0 M314.70,29.56 a1.2,1.2 0 1,0 2.40,0 a1.2,1.2 0 1,0 -2.40,0 M315.83,29.84 a1.2,1.2 0 1,0 2.40,0 a1.2,1.2 0 1,0 -2.40,0 M316.96,29.82 a1.2,1.2 0 1,0 2.40,0 a1.2,1.2 0 1,0 -2.40,0 M318.09,30.14 a1.2,1.2 0 1,0 2.40,0 a1.2,1.2 0 1,0 -2.40,0 M319.22,29.99 a1.2,1.2 0 1,0 2.40,0 a1.2,1.2 0 1,0 -2.40,0 M320.35,30.08 a1.2,1.2 0 1,0 2.40,0 a1.2,1.2 0 1,0 -2.40,0 M321.49,30.38 a1.2,1.2 0 1,0 2.40,0 a1.2,1.2 0 1,0 -2.40,0 M322.62,30.43 a1.2,1.2 0 1,0 2.40,0 a1.2,1.2 0 1,0 -2.40,0 M323.75,30.78 a1.2,1.2 0 1,0 2.40,0 a1.2,1.2 0 1,0 -2.40,0 M324.88,30.84 a1.2,1.2 0 1,0 2.40,0 a1.2,1.2 0 1,0 -2.40,0 M326.01,31.10 a1.2,1.2 0 1,0 2.40,0 a1.2,1.2 0 1,0 -2.40,0 M327.14,31.13 a1.2,1.2 0 1,0 2.40,0 a1.2,1.2 0 1,0 -2.40,0 M328.27,31.28 a1.2,1.2 0 1,0 2.40,0 a1.2,1.2 0 1,0 -2.40,0 M329.40,31.49 a1.2,1.2 0 1,0 2.40,0 a1.2,1.2 0 1,0 -2.40,0 M330.53,31.25 a1.2,1.2 0 1,0 2.40,0 a1.2,1.2 0 1,0 -2.40,0 M331.66,31.31 a1.2,1.2 0 1,0 2.40,0 a1.2,1.2 0 1,0 -2.40,0 M332.80,31.88 a1.2,1.2 0 1,0 2.40,0 a1.2,1.2 0 1,0 -2.40,0 M333.93,31.39 a1.2,1.2 0 1,0 2.40,0 a1.2,1.2 0 1,0 -2.40,0 M335.06,31.90 a1.2,1.2 0 1,0 2.40,0 a1.2,1.2 0 1,0 -2.40,0 M336.19,31.95 a1.2,1.2 0 1,0 2.40,0 a1.2,1.2 0 1,0 -2.40,0 M337.32,31.63 a1.2,1.2 0 1,0 2.40,0 a1.2,1.2 0 1,0 -2.40,0 M338.45,32.29 a1.2,1.2 0 1,0 2.40,0 a1.2,1.2 0 1,0 -2.40,0 M339.58,32.43 a1.2,1.2 0 1,0 2.40,0 a1.2,1.2 0 1,0 -2.40,0 M340.71,32.35 a1.2,1.2 0 1,0 2.40,0 a1.2,1.2 0 1,0 -2.40,0 M341.84,32.53 a1.2,1.2 0 1,0 2.40,0 a1.2,1.2 0 1,0 -2.40,0 M342.97,32.68 a1.2,1.2 0 1,0 2.40,0 a1.2,1.2 0 1,0 -2.40,0 M344.11,32.32 a1.2,1.2 0 1,0 2.40,0 a1.2,1.2 0 1,0 -2.40,0 M345.24,32.69 a1.2,1.2 0 1,0 2.40,0 a1.2,1.2 0 1,0 -2.40,0 M346.37,32.78 a1.2,1.2 0 1,0 2.40,0 a1.2,1.2 0 1,0 -2.40,0 M347.50,33.12 a1.2,1.2 0 1,0 2.40,0 a1.2,1.2 0 1,0 -2.40,0 M348.63,33.20 a1.2,1.2 0 1,0 2.40,0 a1.2,1.2 0 1,0 -2.40,0 M349.76,33.32 a1.2,1.2 0 1,0 2.40,0 a1.2,1.2 0 1,0 -2.40,0 M350.89,33.25 a1.2,1.2 0 1,0 2.40,0 a1.2,1.2 0 1,0 -2.40,0 M352.02,33.57 a1.2,1.2 0 1,0 2.40,0 a1.2,1.2 0 1,0 -2.40,0 M353.15,33.53 a1.2,1.2 0 1,0 2.40,0 a1.2,1.2 0 1,0 -2.40,0 M354.28,33.64 a1.2,1.2 0 1,0 2.40,0 a1.2,1.2 0 1,0 -2.40,0 M355.42,33.42 a1.2,1.2 0 1,0 2.40,0 a1.2,1.2 0 1,0 -2.40,0 M356.55,33.39 a1.2,1.2 0 1,0 2.40,0 a1.2,1.2 0 1,0 -2.40,0 M357.68,33.56 a1.2,1.2 0 1,0 2.40,0 a1.2,1.2 0 1,0 -2.40,0 M358.81,33.83 a1.2,1.2 0 1,0 2.40,0 a1.2,1.2 0 1,0 -2.40,0 M359.94,33.75 a1.2,1.2 0 1,0 2.40,0 a1.2,1.2 0 1,0 -2.40,0 M361.07,34.37 a1.2,1.2 0 1,0 2.40,0 a1.2,1.2 0 1,0 -2.40,0 M362.20,34.28 a1.2,1.2 0 1,0 2.40,0 a1.2,1.2 0 1,0 -2.40,0 M363.33,34.43 a1.2,1.2 0 1,0 2.40,0 a1.2,1.2 0 1,0 -2.40,0 M364.46,34.53 a1.2,1.2 0 1,0 2.40,0 a1.2,1.2 0 1,0 -2.40,0 M365.59,34.68 a1.2,1.2 0 1,0 2.40,0 a1.2,1.2 0 1,0 -2.40,0 M366.73,34.65 a1.2,1.2 0 1,0 2.40,0 a1.2,1.2 0 1,0 -2.40,0 M367.86,34.41 a1.2,1.2 0 1,0 2.40,0 a1.2,1.2 0 1,0 -2.40,0 M368.99,35.07 a1.2,1.2 0 1,0 2.40,0 a1.2,1.2 0 1,0 -2.40,0 M370.12,35.14 a1.2,1.2 0 1,0 2.40,0 a1.2,1.2 0 1,0 -2.40,0 M371.25,35.07 a1.2,1.2 0 1,0 2.40,0 a1.2,1.2 0 1,0 -2.40,0 M372.38,35.20 a1.2,1.2 0 1,0 2.40,0 a1.2,1.2 0 1,0 -2.40,0 M373.51,35.39 a1.2,1.2 0 1,0 2.40,0 a1.2,1.2 0 1,0 -2.40,0 M374.64,35.08 a1.2,1.2 0 1,0 2.40,0 a1.2,1.2 0 1,0 -2.40,0 M375.77,35.66 a1.2,1.2 0 1,0 2.40,0 a1.2,1.2 0 1,0 -2.40,0 M376.90,35.42 a1.2,1.2 0 1,0 2.40,0 a1.2,1.2 0 1,0 -2.40,0 M378.04,35.40 a1.2,1.2 0 1,0 2.40,0 a1.2,1.2 0 1,0 -2.40,0 M379.17,35.64 a1.2,1.2 0 1,0 2.40,0 a1.2,1.2 0 1,0 -2.40,0 M380.30,36.07 a1.2,1.2 0 1,0 2.40,0 a1.2,1.2 0 1,0 -2.40,0 M381.43,35.81 a1.2,1.2 0 1,0 2.40,0 a1.2,1.2 0 1,0 -2.40,0 M382.56,36.28 a1.2,1.2 0 1,0 2.40,0 a1.2,1.2 0 1,0 -2.40,0 M383.69,36.55 a1.2,1.2 0 1,0 2.40,0 a1.2,1.2 0 1,0 -2.40,0 M384.82,36.32 a1.2,1.2 0 1,0 2.40,0 a1.2,1.2 0 1,0 -2.40,0 M385.95,36.35 a1.2,1.2 0 1,0 2.40,0 a1.2,1.2 0 1,0 -2.40,0 M387.08,36.52 a1.2,1.2 0 1,0 2.40,0 a1.2,1.2 0 1,0 -2.40,0 M388.21,36.76 a1.2,1.2 0 1,0 2.40,0 a1.2,1.2 0 1,0 -2.40,0 M389.35,36.93 a1.2,1.2 0 1,0 2.40,0 a1.2,1.2 0 1,0 -2.40,0 M390.48,36.93 a1.2,1.2 0 1,0 2.40,0 a1.2,1.2 0 1,0 -2.40,0 M391.61,37.05 a1.2,1.2 0 1,0 2.40,0 a1.2,1.2 0 1,0 -2.40,0 M392.74,36.75 a1.2,1.2 0 1,0 2.40,0 a1.2,1.2 0 1,0 -2.40,0 M393.87,36.91 a1.2,1.2 0 1,0 2.40,0 a1.2,1.2 0 1,0 -2.40,0 M395.00,37.08 a1.2,1.2 0 1,0 2.40,0 a1.2,1.2 0 1,0 -2.40,0 M396.13,37.53 a1.2,1.2 0 1,0 2.40,0 a1.2,1.2 0 1,0 -2.40,0 M397.26,37.33 a1.2,1.2 0 1,0 2.40,0 a1.2,1.2 0 1,0 -2.40,0 M398.39,37.61 a1.2,1.2 0 1,0 2.40,0 a1.2,1.2 0 1,0 -2.40,0 M399.52,37.33 a1.2,1.2 0 1,0 2.40,0 a1.2,1.2 0 1,0 -2.40,0 M400.66,37.47 a1.2,1.2 0 1,0 2.40,0 a1.2,1.2 0 1,0 -2.40,0 M401.79,37.71 a1.2,1.2 0 1,0 2.40,0 a1.2,1.2 0 1,0 -2.40,0 M402.92,38.10 a1.2,1.2 0 1,0 2.40,0 a1.2,1.2 0 1,0 -2.40,0 M404.05,38.22 a1.2,1.2 0 1,0 2.40,0 a1.2,1.2 0 1,0 -2.40,0 M405.18,38.31 a1.2,1.2 0 1,0 2.40,0 a1.2,1.2 0 1,0 -2.40,0 M406.31,38.14 a1.2,1.2 0 1,0 2.40,0 a1.2,1.2 0 1,0 -2.40,0 M407.44,38.40 a1.2,1.2 0 1,0 2.40,0 a1.2,1.2 0 1,0 -2.40,0 M408.57,38.46 a1.2,1.2 0 1,0 2.40,0 a1.2,1.2 0 1,0 -2.40,0 M409.70,38.57 a1.2,1.2 0 1,0 2.40,0 a1.2,1.2 0 1,0 -2.40,0 M410.83,38.43 a1.2,1.2 0 1,0 2.40,0 a1.2,1.2 0 1,0 -2.40,0 M411.97,39.07 a1.2,1.2 0 1,0 2.40,0 a1.2,1.2 0 1,0 -2.40,0 M413.10,38.69 a1.2,1.2 0 1,0 2.40,0 a1.2,1.2 0 1,0 -2.40,0 M414.23,39.33 a1.2,1.2 0 1,0 2.40,0 a1.2,1.2 0 1,0 -2.40,0 M415.36,39.40 a1.2,1.2 0 1,0 2.40,0 a1.2,1.2 0 1,0 -2.40,0 M416.49,38.86 a1.2,1.2 0 1,0 2.40,0 a1.2,1.2 0 1,0 -2.40,0 M417.62,39.27 a1.2,1.2 0 1,0 2.40,0 a1.2,1.2 0 1,0 -2.40,0 M418.75,39.62 a1.2,1.2 0 1,0 2.40,0 a1.2,1.2 0 1,0 -2.40,0 M419.88,39.83 a1.2,1.2 0 1,0 2.40,0 a1.2,1.2 0 1,0 -2.40,0 M421.01,39.57 a1.2,1.2 0 1,0 2.40,0 a1.2,1.2 0 1,0 -2.40,0 M422.14,39.54 a1.2,1.2 0 1,0 2.40,0 a1.2,1.2 0 1,0 -2.40,0 M423.28,39.60 a1.2,1.2 0 1,0 2.40,0 a1.2,1.2 0 1,0 -2.40,0 M424.41,40.21 a1.2,1.2 0 1,0 2.40,0 a1.2,1.2 0 1,0 -2.40,0 M425.54,39.80 a1.2,1.2 0 1,0 2.40,0 a1.2,1.2 0 1,0 -2.40,0 M426.67,40.16 a1.2,1.2 0 1,0 2.40,0 a1.2,1.2 0 1,0 -2.40,0 M427.80,39.95 a1.2,1.2 0 1,0 2.40,0 a1.2,1.2 0 1,0 -2.40,0 M428.93,40.31 a1.2,1.2 0 1,0 2.40,0 a1.2,1.2 0 1,0 -2.40,0 M430.06,40.71 a1.2,1.2 0 1,0 2.40,0 a1.2,1.2 0 1,0 -2.40,0 M431.19,40.24 a1.2,1.2 0 1,0 2.40,0 a1.2,1.2 0 1,0 -2.40,0 M432.32,40.82 a1.2,1.2 0 1,0 2.40,0 a1.2,1.2 0 1,0 -2.40,0 M433.45,40.70 a1.2,1.2 0 1,0 2.40,0 a1.2,1.2 0 1,0 -2.40,0 M434.59,41.06 a1.2,1.2 0 1,0 2.40,0 a1.2,1.2 0 1,0 -2.40,0 M435.72,41.03 a1.2,1.2 0 1,0 2.40,0 a1.2,1.2 0 1,0 -2.40,0 M436.85,40.80 a1.2,1.2 0 1,0 2.40,0 a1.2,1.2 0 1,0 -2.40,0 M437.98,41.36 a1.2,1.2 0 1,0 2.40,0 a1.2,1.2 0 1,0 -2.40,0 M439.11,41.17 a1.2,1.2 0 1,0 2.40,0 a1.2,1.2 0 1,0 -2.40,0 M440.24,40.94 a1.2,1.2 0 1,0 2.40,0 a1.2,1.2 0 1,0 -2.40,0 M441.37,41.02 a1.2,1.2 0 1,0 2.40,0 a1.2,1.2 0 1,0 -2.40,0 M442.50,41.46 a1.2,1.2 0 1,0 2.40,0 a1.2,1.2 0 1,0 -2.40,0 M443.63,41.53 a1.2,1.2 0 1,0 2.40,0 a1.2,1.2 0 1,0 -2.40,0 M444.76,41.52 a1.2,1.2 0 1,0 2.40,0 a1.2,1.2 0 1,0 -2.40,0 M445.90,41.50 a1.2,1.2 0 1,0 2.40,0 a1.2,1.2 0 1,0 -2.40,0 M447.03,41.74 a1.2,1.2 0 1,0 2.40,0 a1.2,1.2 0 1,0 -2.40,0 M448.16,41.82 a1.2,1.2 0 1,0 2.40,0 a1.2,1.2 0 1,0 -2.40,0 M449.29,42.28 a1.2,1.2 0 1,0 2.40,0 a1.2,1.2 0 1,0 -2.40,0 M450.42,41.78 a1.2,1.2 0 1,0 2.40,0 a1.2,1.2 0 1,0 -2.40,0 M451.55,42.40 a1.2,1.2 0 1,0 2.40,0 a1.2,1.2 0 1,0 -2.40,0 M452.68,42.56 a1.2,1.2 0 1,0 2.40,0 a1.2,1.2 0 1,0 -2.40,0 M453.81,42.15 a1.2,1.2 0 1,0 2.40,0 a1.2,1.2 0 1,0 -2.40,0 M454.94,42.81 a1.2,1.2 0 1,0 2.40,0 a1.2,1.2 0 1,0 -2.40,0 M456.07,42.75 a1.2,1.2 0 1,0 2.40,0 a1.2,1.2 0 1,0 -2.40,0 M457.21,42.98 a1.2,1.2 0 1,0 2.40,0 a1.2,1.2 0 1,0 -2.40,0 M458.34,42.64 a1.2,1.2 0 1,0 2.40,0 a1.2,1.2 0 1,0 -2.40,0 M459.47,42.79 a1.2,1.2 0 1,0 2.40,0 a1.2,1.2 0 1,0 -2.40,0 M460.60,42.90 a1.2,1.2 0 1,0 2.40,0 a1.2,1.2 0 1,0 -2.40,0 M461.73,43.41 a1.2,1.2 0 1,0 2.40,0 a1.2,1.2 0 1,0 -2.40,0 M462.86,43.21 a1.2,1.2 0 1,0 2.40,0 a1.2,1.2 0 1,0 -2.40,0 M463.99,43.15 a1.2,1.2 0 1,0 2.40,0 a1.2,1.2 0 1,0 -2.40,0 M465.12,43.28 a1.2,1.2 0 1,0 2.40,0 a1.2,1.2 0 1,0 -2.40,0 M466.25,43.27 a1.2,1.2 0 1,0 2.40,0 a1.2,1.2 0 1,0 -2.40,0 M467.38,43.20 a1.2,1.2 0 1,0 2.40,0 a1.2,1.2 0 1,0 -2.40,0 M468.52,43.32 a1.2,1.2 0 1,0 2.40,0 a1.2,1.2 0 1,0 -2.40,0 M469.65,43.93 a1.2,1.2 0 1,0 2.40,0 a1.2,1.2 0 1,0 -2.40,0 M470.78,43.63 a1.2,1.2 0 1,0 2.40,0 a1.2,1.2 0 1,0 -2.40,0 M471.91,44.17 a1.2,1.2 0 1,0 2.40,0 a1.2,1.2 0 1,0 -2.40,0 M473.04,43.78 a1.2,1.2 0 1,0 2.40,0 a1.2,1.2 0 1,0 -2.40,0 M474.17,43.88 a1.2,1.2 0 1,0 2.40,0 a1.2,1.2 0 1,0 -2.40,0 M475.30,44.14 a1.2,1.2 0 1,0 2.40,0 a1.2,1.2 0 1,0 -2.40,0 M476.43,44.00 a1.2,1.2 0 1,0 2.40,0 a1.2,1.2 0 1,0 -2.40,0 M477.56,44.22 a1.2,1.2 0 1,0 2.40,0 a1.2,1.2 0 1,0 -2.40,0 M478.69,44.71 a1.2,1.2 0 1,0 2.40,0 a1.2,1.2 0 1,0 -2.40,0 M479.83,44.75 a1.2,1.2 0 1,0 2.40,0 a1.2,1.2 0 1,0 -2.40,0 M480.96,44.78 a1.2,1.2 0 1,0 2.40,0 a1.2,1.2 0 1,0 -2.40,0 M482.09,44.74 a1.2,1.2 0 1,0 2.40,0 a1.2,1.2 0 1,0 -2.40,0 M483.22,45.02 a1.2,1.2 0 1,0 2.40,0 a1.2,1.2 0 1,0 -2.40,0 M484.35,45.13 a1.2,1.2 0 1,0 2.40,0 a1.2,1.2 0 1,0 -2.40,0 M485.48,44.94 a1.2,1.2 0 1,0 2.40,0 a1.2,1.2 0 1,0 -2.40,0 M486.61,45.14 a1.2,1.2 0 1,0 2.40,0 a1.2,1.2 0 1,0 -2.40,0 M487.74,44.75 a1.2,1.2 0 1,0 2.40,0 a1.2,1.2 0 1,0 -2.40,0 M488.87,45.31 a1.2,1.2 0 1,0 2.40,0 a1.2,1.2 0 1,0 -2.40,0 M490.00,45.20 a1.2,1.2 0 1,0 2.40,0 a1.2,1.2 0 1,0 -2.40,0 M491.14,45.49 a1.2,1.2 0 1,0 2.40,0 a1.2,1.2 0 1,0 -2.40,0 M492.27,45.50 a1.2,1.2 0 1,0 2.40,0 a1.2,1.2 0 1,0 -2.40,0 M493.40,45.33 a1.2,1.2 0 1,0 2.40,0 a1.2,1.2 0 1,0 -2.40,0 M494.53,45.24 a1.2,1.2 0 1,0 2.40,0 a1.2,1.2 0 1,0 -2.40,0 M495.66,45.94 a1.2,1.2 0 1,0 2.40,0 a1.2,1.2 0 1,0 -2.40,0 M496.79,45.46 a1.2,1.2 0 1,0 2.40,0 a1.2,1.2 0 1,0 -2.40,0 M497.92,45.78 a1.2,1.2 0 1,0 2.40,0 a1.2,1.2 0 1,0 -2.40,0 M499.05,45.77 a1.2,1.2 0 1,0 2.40,0 a1.2,1.2 0 1,0 -2.40,0 M500.18,45.82 a1.2,1.2 0 1,0 2.40,0 a1.2,1.2 0 1,0 -2.40,0 M501.31,46.20 a1.2,1.2 0 1,0 2.40,0 a1.2,1.2 0 1,0 -2.40,0 M502.44,46.45 a1.2,1.2 0 1,0 2.40,0 a1.2,1.2 0 1,0 -2.40,0 M503.58,46.02 a1.2,1.2 0 1,0 2.40,0 a1.2,1.2 0 1,0 -2.40,0 M504.71,46.38 a1.2,1.2 0 1,0 2.40,0 a1.2,1.2 0 1,0 -2.40,0 M505.84,46.20 a1.2,1.2 0 1,0 2.40,0 a1.2,1.2 0 1,0 -2.40,0 M506.97,46.46 a1.2,1.2 0 1,0 2.40,0 a1.2,1.2 0 1,0 -2.40,0 M508.10,46.42 a1.2,1.2 0 1,0 2.40,0 a1.2,1.2 0 1,0 -2.40,0 " fill="none" stroke="#0A8CFF" stroke-width="0.7"/>
<rect x="36.0" y="191.0" width="207.00" height="139.90" fill="none" stroke="#000" stroke-width="1.5"/>
<path d="M38.10,330.9 V333.5M78.20,330.9 V333.5M118.30,330.9 V333.5M158.40,330.9 V333.5M198.50,330.9 V333.5M238.60,330.9 V333.5M58.15,330.9 V332.7M98.25,330.9 V332.7M138.35,330.9 V332.7M178.45,330.9 V332.7M218.55,330.9 V332.7M36.0,331.10 H33.4M36.0,299.25 H33.4M36.0,267.40 H33.4M36.0,235.55 H33.4M36.0,203.70 H33.4M36.0,315.18 H34.2M36.0,283.32 H34.2M36.0,251.47 H34.2M36.0,219.62 H34.2" stroke="#000" stroke-width="1.2" fill="none"/>
<text x="38.10" y="343.00" font-size="9.8" text-anchor="middle" font-weight="bold" >0</text>
<text x="78.20" y="343.00" font-size="9.8" text-anchor="middle" font-weight="bold" >50</text>
<text x="118.30" y="343.00" font-size="9.8" text-anchor="middle" font-weight="bold" >100</text>
<text x="158.40" y="343.00" font-size="9.8" text-anchor="middle" font-weight="bold" >150</text>
<text x="198.50" y="343.00" font-size="9.8" text-anchor="middle" font-weight="bold" >200</text>
<text x="238.60" y="343.00" font-size="9.8" text-anchor="middle" font-weight="bold" >250</text>
<text x="31.00" y="334.50" font-size="9.8" text-anchor="end" font-weight="bold" >2.5</text>
<text x="31.00" y="302.65" font-size="9.8" text-anchor="end" font-weight="bold" >3.0</text>
<text x="31.00" y="270.80" font-size="9.8" text-anchor="end" font-weight="bold" >3.5</text>
<text x="31.00" y="238.95" font-size="9.8" text-anchor="end" font-weight="bold" >4.0</text>
<text x="31.00" y="207.10" font-size="9.8" text-anchor="end" font-weight="bold" >4.5</text>
<text x="5.60" y="194.60" font-size="20.5" text-anchor="start" font-weight="bold" >c</text>
<text transform="translate(11.2,255.6) rotate(-90)" font-size="10.1" text-anchor="middle" font-weight="bold">Potential (V vs. Li/Li<tspan dy="-4.24" font-size="9.09">+</tspan><tspan dy="4.24">)</tspan></text>
<text x="70.5" y="356.9" font-size="11.66" font-weight="bold">Specific capacity (mAh g</text>
<text x="194.1" y="355.1" font-size="10.8" font-weight="bold">-1</text>
<text x="204.0" y="356.9" font-size="11.66" font-weight="bold">)</text>
<text x="42.10" y="284.1" font-size="12.4" font-weight="bold">0.1 C 2.8-4.6 V</text>
<text x="126.60" y="284.1" font-size="12.4" font-weight="bold">25 °C</text>
<path d="M46.1,310.1 H66.8" stroke="#FF7F0A" stroke-width="1.8"/>
<path d="M46.1,321.8 H66.8" stroke="#0A8CFF" stroke-width="1.8"/>
<text x="69.40" y="313.50" font-size="9.3" text-anchor="start" font-weight="bold" >SCNCM ICE:86.0%</text>
<text x="69.40" y="324.90" font-size="9.3" text-anchor="start" font-weight="bold" >SCNCM/(ALP+BA)−1 ICE:88.1%</text>
<path d="M38.20,331.00 C38.20,325.83 38.13,311.42 38.20,300.00 C38.27,288.58 38.22,268.97 38.60,262.50 C38.98,256.03 39.35,261.55 40.50,261.20 C41.65,260.85 39.92,260.85 45.50,260.40 C51.08,259.95 66.07,259.40 74.00,258.50 C81.93,257.60 86.07,256.22 93.10,255.00 C100.13,253.78 109.57,252.55 116.20,251.20 C122.83,249.85 126.27,248.73 132.90,246.90 C139.53,245.07 149.27,242.33 156.00,240.20 C162.73,238.07 167.53,236.27 173.30,234.10 C179.07,231.93 185.98,228.93 190.60,227.20 C195.22,225.47 197.25,224.57 201.00,223.70 C204.75,222.83 209.65,222.68 213.10,222.00 C216.55,221.32 219.10,220.83 221.70,219.60 C224.30,218.37 226.73,216.62 228.70,214.60 C230.67,212.58 232.20,209.60 233.50,207.50 C234.80,205.40 235.58,203.62 236.50,202.00 C237.42,200.38 238.58,198.50 239.00,197.80" fill="none" stroke="#FF7F0A" stroke-width="2.2" stroke-linecap="round" stroke-linejoin="round"/>
<path d="M38.30,204.30 C38.68,205.37 39.45,208.58 40.60,210.70 C41.75,212.82 43.47,215.27 45.20,217.00 C46.93,218.73 48.68,220.03 51.00,221.10 C53.32,222.17 55.83,222.73 59.10,223.40 C62.37,224.07 67.72,224.53 70.60,225.10 C73.48,225.67 74.08,225.93 76.40,226.80 C78.72,227.67 81.23,228.97 84.50,230.30 C87.77,231.63 91.68,233.18 96.00,234.80 C100.32,236.42 104.25,237.98 110.40,240.00 C116.55,242.02 125.30,245.00 132.90,246.90 C140.50,248.80 148.82,249.80 156.00,251.40 C163.18,253.00 170.55,255.23 176.00,256.50 C181.45,257.77 184.88,258.05 188.70,259.00 C192.52,259.95 196.35,260.93 198.90,262.20 C201.45,263.47 202.62,264.80 204.00,266.60 C205.38,268.40 206.25,270.23 207.20,273.00 C208.15,275.77 209.07,279.38 209.70,283.20 C210.33,287.02 210.72,291.23 211.00,295.90 C211.28,300.57 211.33,308.65 211.40,311.20" fill="none" stroke="#FF7F0A" stroke-width="2.2" stroke-linecap="round" stroke-linejoin="round"/>
<path d="M38.40,311.80 C38.40,308.17 38.37,298.70 38.40,290.00 C38.43,281.30 38.25,264.90 38.60,259.60 C38.95,254.30 39.35,258.52 40.50,258.20 C41.65,257.88 39.92,257.98 45.50,257.70 C51.08,257.42 66.07,257.05 74.00,256.50 C81.93,255.95 86.07,255.32 93.10,254.40 C100.13,253.48 109.57,252.25 116.20,251.00 C122.83,249.75 126.27,248.70 132.90,246.90 C139.53,245.10 149.27,242.33 156.00,240.20 C162.73,238.07 167.53,236.27 173.30,234.10 C179.07,231.93 185.98,228.93 190.60,227.20 C195.22,225.47 197.25,224.57 201.00,223.70 C204.75,222.83 209.65,222.72 213.10,222.00 C216.55,221.28 219.10,220.70 221.70,219.40 C224.30,218.10 226.82,216.22 228.70,214.20 C230.58,212.18 231.72,210.03 233.00,207.30 C234.28,204.57 235.83,199.38 236.40,197.80" fill="none" stroke="#0A8CFF" stroke-width="2.2" stroke-linecap="round" stroke-linejoin="round"/>
<path d="M38.30,209.00 C38.68,209.87 39.45,212.57 40.60,214.20 C41.75,215.83 43.47,217.55 45.20,218.80 C46.93,220.05 48.68,220.90 51.00,221.70 C53.32,222.50 55.83,223.03 59.10,223.60 C62.37,224.17 67.72,224.57 70.60,225.10 C73.48,225.63 74.08,225.93 76.40,226.80 C78.72,227.67 81.23,228.97 84.50,230.30 C87.77,231.63 91.68,233.18 96.00,234.80 C100.32,236.42 104.25,237.98 110.40,240.00 C116.55,242.02 125.30,245.00 132.90,246.90 C140.50,248.80 148.82,249.80 156.00,251.40 C163.18,253.00 170.55,255.27 176.00,256.50 C181.45,257.73 184.88,257.92 188.70,258.80 C192.52,259.68 196.27,260.57 198.90,261.80 C201.53,263.03 203.00,264.40 204.50,266.20 C206.00,268.00 206.88,269.80 207.90,272.60 C208.92,275.40 209.88,279.12 210.60,283.00 C211.32,286.88 211.82,291.20 212.20,295.90 C212.58,300.60 212.78,308.65 212.90,311.20" fill="none" stroke="#0A8CFF" stroke-width="2.2" stroke-linecap="round" stroke-linejoin="round"/>
<rect x="281.8" y="193.3" width="232.80" height="139.70" fill="none" stroke="#000" stroke-width="1.5"/>
<path d="M282.70,333.0 V335.6M305.36,333.0 V335.6M328.02,333.0 V335.6M350.68,333.0 V335.6M373.34,333.0 V335.6M396.00,333.0 V335.6M418.66,333.0 V335.6M441.32,333.0 V335.6M463.98,333.0 V335.6M486.64,333.0 V335.6M509.30,333.0 V335.6M294.03,333.0 V334.8M316.69,333.0 V334.8M339.35,333.0 V334.8M362.01,333.0 V334.8M384.67,333.0 V334.8M407.33,333.0 V334.8M429.99,333.0 V334.8M452.65,333.0 V334.8M475.31,333.0 V334.8M497.97,333.0 V334.8M281.8,333.00 H279.2M281.8,306.34 H279.2M281.8,279.68 H279.2M281.8,253.02 H279.2M281.8,226.36 H279.2M281.8,199.70 H279.2M281.8,319.67 H280.0M281.8,293.01 H280.0M281.8,266.35 H280.0M281.8,239.69 H280.0M281.8,213.03 H280.0" stroke="#000" stroke-width="1.2" fill="none"/>
<text x="282.70" y="345.20" font-size="9.8" text-anchor="middle" font-weight="bold" >0</text>
<text x="305.36" y="345.20" font-size="9.8" text-anchor="middle" font-weight="bold" >20</text>
<text x="328.02" y="345.20" font-size="9.8" text-anchor="middle" font-weight="bold" >40</text>
<text x="350.68" y="345.20" font-size="9.8" text-anchor="middle" font-weight="bold" >60</text>
<text x="373.34" y="345.20" font-size="9.8" text-anchor="middle" font-weight="bold" >80</text>
<text x="396.00" y="345.20" font-size="9.8" text-anchor="middle" font-weight="bold" >100</text>
<text x="418.66" y="345.20" font-size="9.8" text-anchor="middle" font-weight="bold" >120</text>
<text x="441.32" y="345.20" font-size="9.8" text-anchor="middle" font-weight="bold" >140</text>
<text x="463.98" y="345.20" font-size="9.8" text-anchor="middle" font-weight="bold" >160</text>
<text x="486.64" y="345.20" font-size="9.8" text-anchor="middle" font-weight="bold" >180</text>
<text x="509.30" y="345.20" font-size="9.8" text-anchor="middle" font-weight="bold" >200</text>
<text x="276.80" y="336.40" font-size="9.8" text-anchor="end" font-weight="bold" >0</text>
<text x="276.80" y="309.74" font-size="9.8" text-anchor="end" font-weight="bold" >40</text>
<text x="276.80" y="283.08" font-size="9.8" text-anchor="end" font-weight="bold" >80</text>
<text x="276.80" y="256.42" font-size="9.8" text-anchor="end" font-weight="bold" >120</text>
<text x="276.80" y="229.76" font-size="9.8" text-anchor="end" font-weight="bold" >160</text>
<text x="276.80" y="203.10" font-size="9.8" text-anchor="end" font-weight="bold" >200</text>
<text x="252.20" y="194.70" font-size="19.5" text-anchor="start" font-weight="bold" >d</text>
<text transform="translate(257.8,263.3) rotate(-90)" font-size="10.2" text-anchor="middle" font-weight="normal">Specific capacity <tspan font-weight="bold">(mAh g<tspan dy="-3.26" font-size="8.67">-1</tspan><tspan dy="3.26">)</tspan></tspan></text>
<text x="357.40" y="360.80" font-size="13.05" text-anchor="start" font-weight="bold" >Cycle Number</text>
<text x="286.20" y="284.1" font-size="12.4" font-weight="bold">1 C 2.8-4.6 V</text>
<text x="360.30" y="284.1" font-size="12.4" font-weight="bold">25 °C</text>
<path d="M283.6,310 H305.5" stroke="#FF7F0A" stroke-width="1.0"/>
<circle cx="294.55" cy="310" r="1.15" fill="#FF7F0A" fill-opacity="0.45" stroke="#FF7F0A" stroke-width="0.85"/>
<path d="M283.6,322.3 H305.5" stroke="#0A8CFF" stroke-width="1.0"/>
<circle cx="294.55" cy="322.3" r="1.15" fill="#0A8CFF" fill-opacity="0.45" stroke="#0A8CFF" stroke-width="0.85"/>
<text x="308.00" y="313.80" font-size="9.9" text-anchor="start" font-weight="bold" >SCNCM</text>
<text x="308.00" y="326.20" font-size="9.9" text-anchor="start" font-weight="bold" >SCNCM/(ALP+BA)−1</text>
<path d="M282.63,211.29 a1.2,1.2 0 1,0 2.40,0 a1.2,1.2 0 1,0 -2.40,0 M283.77,211.70 a1.2,1.2 0 1,0 2.40,0 a1.2,1.2 0 1,0 -2.40,0 M284.90,212.15 a1.2,1.2 0 1,0 2.40,0 a1.2,1.2 0 1,0 -2.40,0 M286.03,213.06 a1.2,1.2 0 1,0 2.40,0 a1.2,1.2 0 1,0 -2.40,0 M287.17,213.19 a1.2,1.2 0 1,0 2.40,0 a1.2,1.2 0 1,0 -2.40,0 M288.30,213.41 a1.2,1.2 0 1,0 2.40,0 a1.2,1.2 0 1,0 -2.40,0 M289.43,214.31 a1.2,1.2 0 1,0 2.40,0 a1.2,1.2 0 1,0 -2.40,0 M290.56,214.79 a1.2,1.2 0 1,0 2.40,0 a1.2,1.2 0 1,0 -2.40,0 M291.70,214.82 a1.2,1.2 0 1,0 2.40,0 a1.2,1.2 0 1,0 -2.40,0 M292.83,215.01 a1.2,1.2 0 1,0 2.40,0 a1.2,1.2 0 1,0 -2.40,0 M293.96,215.46 a1.2,1.2 0 1,0 2.40,0 a1.2,1.2 0 1,0 -2.40,0 M295.10,215.80 a1.2,1.2 0 1,0 2.40,0 a1.2,1.2 0 1,0 -2.40,0 M296.23,216.39 a1.2,1.2 0 1,0 2.40,0 a1.2,1.2 0 1,0 -2.40,0 M297.36,216.62 a1.2,1.2 0 1,0 2.40,0 a1.2,1.2 0 1,0 -2.40,0 M298.50,217.13 a1.2,1.2 0 1,0 2.40,0 a1.2,1.2 0 1,0 -2.40,0 M299.63,217.55 a1.2,1.2 0 1,0 2.40,0 a1.2,1.2 0 1,0 -2.40,0 M300.76,218.18 a1.2,1.2 0 1,0 2.40,0 a1.2,1.2 0 1,0 -2.40,0 M301.89,218.80 a1.2,1.2 0 1,0 2.40,0 a1.2,1.2 0 1,0 -2.40,0 M303.03,219.11 a1.2,1.2 0 1,0 2.40,0 a1.2,1.2 0 1,0 -2.40,0 M304.16,219.28 a1.2,1.2 0 1,0 2.40,0 a1.2,1.2 0 1,0 -2.40,0 M305.29,219.68 a1.2,1.2 0 1,0 2.40,0 a1.2,1.2 0 1,0 -2.40,0 M306.43,220.16 a1.2,1.2 0 1,0 2.40,0 a1.2,1.2 0 1,0 -2.40,0 M307.56,220.45 a1.2,1.2 0 1,0 2.40,0 a1.2,1.2 0 1,0 -2.40,0 M308.69,220.82 a1.2,1.2 0 1,0 2.40,0 a1.2,1.2 0 1,0 -2.40,0 M309.82,221.03 a1.2,1.2 0 1,0 2.40,0 a1.2,1.2 0 1,0 -2.40,0 M310.96,221.57 a1.2,1.2 0 1,0 2.40,0 a1.2,1.2 0 1,0 -2.40,0 M312.09,222.45 a1.2,1.2 0 1,0 2.40,0 a1.2,1.2 0 1,0 -2.40,0 M313.22,222.25 a1.2,1.2 0 1,0 2.40,0 a1.2,1.2 0 1,0 -2.40,0 M314.36,222.91 a1.2,1.2 0 1,0 2.40,0 a1.2,1.2 0 1,0 -2.40,0 M315.49,223.39 a1.2,1.2 0 1,0 2.40,0 a1.2,1.2 0 1,0 -2.40,0 M316.62,223.94 a1.2,1.2 0 1,0 2.40,0 a1.2,1.2 0 1,0 -2.40,0 M317.76,223.87 a1.2,1.2 0 1,0 2.40,0 a1.2,1.2 0 1,0 -2.40,0 M318.89,224.30 a1.2,1.2 0 1,0 2.40,0 a1.2,1.2 0 1,0 -2.40,0 M320.02,224.67 a1.2,1.2 0 1,0 2.40,0 a1.2,1.2 0 1,0 -2.40,0 M321.16,225.16 a1.2,1.2 0 1,0 2.40,0 a1.2,1.2 0 1,0 -2.40,0 M322.29,225.57 a1.2,1.2 0 1,0 2.40,0 a1.2,1.2 0 1,0 -2.40,0 M323.42,226.31 a1.2,1.2 0 1,0 2.40,0 a1.2,1.2 0 1,0 -2.40,0 M324.55,226.61 a1.2,1.2 0 1,0 2.40,0 a1.2,1.2 0 1,0 -2.40,0 M325.69,227.00 a1.2,1.2 0 1,0 2.40,0 a1.2,1.2 0 1,0 -2.40,0 M326.82,226.78 a1.2,1.2 0 1,0 2.40,0 a1.2,1.2 0 1,0 -2.40,0 M327.95,227.16 a1.2,1.2 0 1,0 2.40,0 a1.2,1.2 0 1,0 -2.40,0 M329.09,228.01 a1.2,1.2 0 1,0 2.40,0 a1.2,1.2 0 1,0 -2.40,0 M330.22,228.51 a1.2,1.2 0 1,0 2.40,0 a1.2,1.2 0 1,0 -2.40,0 M331.35,228.59 a1.2,1.2 0 1,0 2.40,0 a1.2,1.2 0 1,0 -2.40,0 M332.49,229.03 a1.2,1.2 0 1,0 2.40,0 a1.2,1.2 0 1,0 -2.40,0 M333.62,228.99 a1.2,1.2 0 1,0 2.40,0 a1.2,1.2 0 1,0 -2.40,0 M334.75,229.63 a1.2,1.2 0 1,0 2.40,0 a1.2,1.2 0 1,0 -2.40,0 M335.88,230.36 a1.2,1.2 0 1,0 2.40,0 a1.2,1.2 0 1,0 -2.40,0 M337.02,230.65 a1.2,1.2 0 1,0 2.40,0 a1.2,1.2 0 1,0 -2.40,0 M338.15,231.03 a1.2,1.2 0 1,0 2.40,0 a1.2,1.2 0 1,0 -2.40,0 M339.28,231.47 a1.2,1.2 0 1,0 2.40,0 a1.2,1.2 0 1,0 -2.40,0 M340.42,231.32 a1.2,1.2 0 1,0 2.40,0 a1.2,1.2 0 1,0 -2.40,0 M341.55,231.58 a1.2,1.2 0 1,0 2.40,0 a1.2,1.2 0 1,0 -2.40,0 M342.68,231.96 a1.2,1.2 0 1,0 2.40,0 a1.2,1.2 0 1,0 -2.40,0 M343.81,232.57 a1.2,1.2 0 1,0 2.40,0 a1.2,1.2 0 1,0 -2.40,0 M344.95,233.03 a1.2,1.2 0 1,0 2.40,0 a1.2,1.2 0 1,0 -2.40,0 M346.08,233.56 a1.2,1.2 0 1,0 2.40,0 a1.2,1.2 0 1,0 -2.40,0 M347.21,233.75 a1.2,1.2 0 1,0 2.40,0 a1.2,1.2 0 1,0 -2.40,0 M348.35,234.05 a1.2,1.2 0 1,0 2.40,0 a1.2,1.2 0 1,0 -2.40,0 M349.48,234.47 a1.2,1.2 0 1,0 2.40,0 a1.2,1.2 0 1,0 -2.40,0 M350.61,234.59 a1.2,1.2 0 1,0 2.40,0 a1.2,1.2 0 1,0 -2.40,0 M351.75,235.00 a1.2,1.2 0 1,0 2.40,0 a1.2,1.2 0 1,0 -2.40,0 M352.88,234.98 a1.2,1.2 0 1,0 2.40,0 a1.2,1.2 0 1,0 -2.40,0 M354.01,235.83 a1.2,1.2 0 1,0 2.40,0 a1.2,1.2 0 1,0 -2.40,0 M355.14,235.78 a1.2,1.2 0 1,0 2.40,0 a1.2,1.2 0 1,0 -2.40,0 M356.28,236.59 a1.2,1.2 0 1,0 2.40,0 a1.2,1.2 0 1,0 -2.40,0 M357.41,236.73 a1.2,1.2 0 1,0 2.40,0 a1.2,1.2 0 1,0 -2.40,0 M358.54,236.82 a1.2,1.2 0 1,0 2.40,0 a1.2,1.2 0 1,0 -2.40,0 M359.68,237.02 a1.2,1.2 0 1,0 2.40,0 a1.2,1.2 0 1,0 -2.40,0 M360.81,237.43 a1.2,1.2 0 1,0 2.40,0 a1.2,1.2 0 1,0 -2.40,0 M361.94,238.02 a1.2,1.2 0 1,0 2.40,0 a1.2,1.2 0 1,0 -2.40,0 M363.08,238.39 a1.2,1.2 0 1,0 2.40,0 a1.2,1.2 0 1,0 -2.40,0 M364.21,238.29 a1.2,1.2 0 1,0 2.40,0 a1.2,1.2 0 1,0 -2.40,0 M365.34,238.58 a1.2,1.2 0 1,0 2.40,0 a1.2,1.2 0 1,0 -2.40,0 M366.47,239.21 a1.2,1.2 0 1,0 2.40,0 a1.2,1.2 0 1,0 -2.40,0 M367.61,239.57 a1.2,1.2 0 1,0 2.40,0 a1.2,1.2 0 1,0 -2.40,0 M368.74,239.74 a1.2,1.2 0 1,0 2.40,0 a1.2,1.2 0 1,0 -2.40,0 M369.87,239.94 a1.2,1.2 0 1,0 2.40,0 a1.2,1.2 0 1,0 -2.40,0 M371.01,240.51 a1.2,1.2 0 1,0 2.40,0 a1.2,1.2 0 1,0 -2.40,0 M372.14,240.40 a1.2,1.2 0 1,0 2.40,0 a1.2,1.2 0 1,0 -2.40,0 M373.27,240.91 a1.2,1.2 0 1,0 2.40,0 a1.2,1.2 0 1,0 -2.40,0 M374.41,241.32 a1.2,1.2 0 1,0 2.40,0 a1.2,1.2 0 1,0 -2.40,0 M375.54,241.97 a1.2,1.2 0 1,0 2.40,0 a1.2,1.2 0 1,0 -2.40,0 M376.67,242.05 a1.2,1.2 0 1,0 2.40,0 a1.2,1.2 0 1,0 -2.40,0 M377.81,242.51 a1.2,1.2 0 1,0 2.40,0 a1.2,1.2 0 1,0 -2.40,0 M378.94,242.52 a1.2,1.2 0 1,0 2.40,0 a1.2,1.2 0 1,0 -2.40,0 M380.07,242.64 a1.2,1.2 0 1,0 2.40,0 a1.2,1.2 0 1,0 -2.40,0 M381.20,242.94 a1.2,1.2 0 1,0 2.40,0 a1.2,1.2 0 1,0 -2.40,0 M382.34,243.73 a1.2,1.2 0 1,0 2.40,0 a1.2,1.2 0 1,0 -2.40,0 M383.47,243.83 a1.2,1.2 0 1,0 2.40,0 a1.2,1.2 0 1,0 -2.40,0 M384.60,243.84 a1.2,1.2 0 1,0 2.40,0 a1.2,1.2 0 1,0 -2.40,0 M385.74,243.92 a1.2,1.2 0 1,0 2.40,0 a1.2,1.2 0 1,0 -2.40,0 M386.87,244.54 a1.2,1.2 0 1,0 2.40,0 a1.2,1.2 0 1,0 -2.40,0 M388.00,244.94 a1.2,1.2 0 1,0 2.40,0 a1.2,1.2 0 1,0 -2.40,0 M389.13,245.04 a1.2,1.2 0 1,0 2.40,0 a1.2,1.2 0 1,0 -2.40,0 M390.27,245.20 a1.2,1.2 0 1,0 2.40,0 a1.2,1.2 0 1,0 -2.40,0 M391.40,245.76 a1.2,1.2 0 1,0 2.40,0 a1.2,1.2 0 1,0 -2.40,0 M392.53,246.21 a1.2,1.2 0 1,0 2.40,0 a1.2,1.2 0 1,0 -2.40,0 M393.67,245.99 a1.2,1.2 0 1,0 2.40,0 a1.2,1.2 0 1,0 -2.40,0 M394.80,246.13 a1.2,1.2 0 1,0 2.40,0 a1.2,1.2 0 1,0 -2.40,0 M395.93,246.61 a1.2,1.2 0 1,0 2.40,0 a1.2,1.2 0 1,0 -2.40,0 M397.07,246.93 a1.2,1.2 0 1,0 2.40,0 a1.2,1.2 0 1,0 -2.40,0 M398.20,247.37 a1.2,1.2 0 1,0 2.40,0 a1.2,1.2 0 1,0 -2.40,0 M399.33,247.29 a1.2,1.2 0 1,0 2.40,0 a1.2,1.2 0 1,0 -2.40,0 M400.46,247.97 a1.2,1.2 0 1,0 2.40,0 a1.2,1.2 0 1,0 -2.40,0 M401.60,248.19 a1.2,1.2 0 1,0 2.40,0 a1.2,1.2 0 1,0 -2.40,0 M402.73,248.28 a1.2,1.2 0 1,0 2.40,0 a1.2,1.2 0 1,0 -2.40,0 M403.86,248.32 a1.2,1.2 0 1,0 2.40,0 a1.2,1.2 0 1,0 -2.40,0 M405.00,249.11 a1.2,1.2 0 1,0 2.40,0 a1.2,1.2 0 1,0 -2.40,0 M406.13,248.90 a1.2,1.2 0 1,0 2.40,0 a1.2,1.2 0 1,0 -2.40,0 M407.26,249.50 a1.2,1.2 0 1,0 2.40,0 a1.2,1.2 0 1,0 -2.40,0 M408.40,249.34 a1.2,1.2 0 1,0 2.40,0 a1.2,1.2 0 1,0 -2.40,0 M409.53,249.58 a1.2,1.2 0 1,0 2.40,0 a1.2,1.2 0 1,0 -2.40,0 M410.66,250.20 a1.2,1.2 0 1,0 2.40,0 a1.2,1.2 0 1,0 -2.40,0 M411.80,250.11 a1.2,1.2 0 1,0 2.40,0 a1.2,1.2 0 1,0 -2.40,0 M412.93,250.81 a1.2,1.2 0 1,0 2.40,0 a1.2,1.2 0 1,0 -2.40,0 M414.06,250.73 a1.2,1.2 0 1,0 2.40,0 a1.2,1.2 0 1,0 -2.40,0 M415.19,250.75 a1.2,1.2 0 1,0 2.40,0 a1.2,1.2 0 1,0 -2.40,0 M416.33,251.01 a1.2,1.2 0 1,0 2.40,0 a1.2,1.2 0 1,0 -2.40,0 M417.46,251.38 a1.2,1.2 0 1,0 2.40,0 a1.2,1.2 0 1,0 -2.40,0 M418.59,251.78 a1.2,1.2 0 1,0 2.40,0 a1.2,1.2 0 1,0 -2.40,0 M419.73,252.21 a1.2,1.2 0 1,0 2.40,0 a1.2,1.2 0 1,0 -2.40,0 M420.86,251.87 a1.2,1.2 0 1,0 2.40,0 a1.2,1.2 0 1,0 -2.40,0 M421.99,252.27 a1.2,1.2 0 1,0 2.40,0 a1.2,1.2 0 1,0 -2.40,0 M423.12,252.37 a1.2,1.2 0 1,0 2.40,0 a1.2,1.2 0 1,0 -2.40,0 M424.26,253.13 a1.2,1.2 0 1,0 2.40,0 a1.2,1.2 0 1,0 -2.40,0 M425.39,252.77 a1.2,1.2 0 1,0 2.40,0 a1.2,1.2 0 1,0 -2.40,0 M426.52,252.92 a1.2,1.2 0 1,0 2.40,0 a1.2,1.2 0 1,0 -2.40,0 M427.66,253.15 a1.2,1.2 0 1,0 2.40,0 a1.2,1.2 0 1,0 -2.40,0 M428.79,253.60 a1.2,1.2 0 1,0 2.40,0 a1.2,1.2 0 1,0 -2.40,0 M429.92,254.17 a1.2,1.2 0 1,0 2.40,0 a1.2,1.2 0 1,0 -2.40,0 M431.06,254.37 a1.2,1.2 0 1,0 2.40,0 a1.2,1.2 0 1,0 -2.40,0 M432.19,254.48 a1.2,1.2 0 1,0 2.40,0 a1.2,1.2 0 1,0 -2.40,0 M433.32,254.87 a1.2,1.2 0 1,0 2.40,0 a1.2,1.2 0 1,0 -2.40,0 M434.45,255.04 a1.2,1.2 0 1,0 2.40,0 a1.2,1.2 0 1,0 -2.40,0 M435.59,254.82 a1.2,1.2 0 1,0 2.40,0 a1.2,1.2 0 1,0 -2.40,0 M436.72,254.93 a1.2,1.2 0 1,0 2.40,0 a1.2,1.2 0 1,0 -2.40,0 M437.85,255.66 a1.2,1.2 0 1,0 2.40,0 a1.2,1.2 0 1,0 -2.40,0 M438.99,255.73 a1.2,1.2 0 1,0 2.40,0 a1.2,1.2 0 1,0 -2.40,0 M440.12,255.43 a1.2,1.2 0 1,0 2.40,0 a1.2,1.2 0 1,0 -2.40,0 M441.25,256.08 a1.2,1.2 0 1,0 2.40,0 a1.2,1.2 0 1,0 -2.40,0 M442.39,256.08 a1.2,1.2 0 1,0 2.40,0 a1.2,1.2 0 1,0 -2.40,0 M443.52,256.27 a1.2,1.2 0 1,0 2.40,0 a1.2,1.2 0 1,0 -2.40,0 M444.65,256.44 a1.2,1.2 0 1,0 2.40,0 a1.2,1.2 0 1,0 -2.40,0 M445.79,256.52 a1.2,1.2 0 1,0 2.40,0 a1.2,1.2 0 1,0 -2.40,0 M446.92,256.60 a1.2,1.2 0 1,0 2.40,0 a1.2,1.2 0 1,0 -2.40,0 M448.05,256.99 a1.2,1.2 0 1,0 2.40,0 a1.2,1.2 0 1,0 -2.40,0 M449.18,257.23 a1.2,1.2 0 1,0 2.40,0 a1.2,1.2 0 1,0 -2.40,0 M450.32,257.85 a1.2,1.2 0 1,0 2.40,0 a1.2,1.2 0 1,0 -2.40,0 M451.45,257.45 a1.2,1.2 0 1,0 2.40,0 a1.2,1.2 0 1,0 -2.40,0 M452.58,258.23 a1.2,1.2 0 1,0 2.40,0 a1.2,1.2 0 1,0 -2.40,0 M453.72,257.89 a1.2,1.2 0 1,0 2.40,0 a1.2,1.2 0 1,0 -2.40,0 M454.85,258.18 a1.2,1.2 0 1,0 2.40,0 a1.2,1.2 0 1,0 -2.40,0 M455.98,258.69 a1.2,1.2 0 1,0 2.40,0 a1.2,1.2 0 1,0 -2.40,0 M457.12,258.88 a1.2,1.2 0 1,0 2.40,0 a1.2,1.2 0 1,0 -2.40,0 M458.25,258.79 a1.2,1.2 0 1,0 2.40,0 a1.2,1.2 0 1,0 -2.40,0 M459.38,258.71 a1.2,1.2 0 1,0 2.40,0 a1.2,1.2 0 1,0 -2.40,0 M460.51,259.19 a1.2,1.2 0 1,0 2.40,0 a1.2,1.2 0 1,0 -2.40,0 M461.65,259.30 a1.2,1.2 0 1,0 2.40,0 a1.2,1.2 0 1,0 -2.40,0 M462.78,259.86 a1.2,1.2 0 1,0 2.40,0 a1.2,1.2 0 1,0 -2.40,0 M463.91,259.53 a1.2,1.2 0 1,0 2.40,0 a1.2,1.2 0 1,0 -2.40,0 M465.05,259.83 a1.2,1.2 0 1,0 2.40,0 a1.2,1.2 0 1,0 -2.40,0 M466.18,260.38 a1.2,1.2 0 1,0 2.40,0 a1.2,1.2 0 1,0 -2.40,0 M467.31,259.95 a1.2,1.2 0 1,0 2.40,0 a1.2,1.2 0 1,0 -2.40,0 M468.44,260.39 a1.2,1.2 0 1,0 2.40,0 a1.2,1.2 0 1,0 -2.40,0 M469.58,260.85 a1.2,1.2 0 1,0 2.40,0 a1.2,1.2 0 1,0 -2.40,0 M470.71,260.99 a1.2,1.2 0 1,0 2.40,0 a1.2,1.2 0 1,0 -2.40,0 M471.84,260.66 a1.2,1.2 0 1,0 2.40,0 a1.2,1.2 0 1,0 -2.40,0 M472.98,260.83 a1.2,1.2 0 1,0 2.40,0 a1.2,1.2 0 1,0 -2.40,0 M474.11,261.02 a1.2,1.2 0 1,0 2.40,0 a1.2,1.2 0 1,0 -2.40,0 M475.24,261.80 a1.2,1.2 0 1,0 2.40,0 a1.2,1.2 0 1,0 -2.40,0 M476.38,261.50 a1.2,1.2 0 1,0 2.40,0 a1.2,1.2 0 1,0 -2.40,0 M477.51,262.02 a1.2,1.2 0 1,0 2.40,0 a1.2,1.2 0 1,0 -2.40,0 M478.64,262.30 a1.2,1.2 0 1,0 2.40,0 a1.2,1.2 0 1,0 -2.40,0 M479.78,262.08 a1.2,1.2 0 1,0 2.40,0 a1.2,1.2 0 1,0 -2.40,0 M480.91,262.20 a1.2,1.2 0 1,0 2.40,0 a1.2,1.2 0 1,0 -2.40,0 M482.04,262.85 a1.2,1.2 0 1,0 2.40,0 a1.2,1.2 0 1,0 -2.40,0 M483.17,262.78 a1.2,1.2 0 1,0 2.40,0 a1.2,1.2 0 1,0 -2.40,0 M484.31,262.70 a1.2,1.2 0 1,0 2.40,0 a1.2,1.2 0 1,0 -2.40,0 M485.44,263.19 a1.2,1.2 0 1,0 2.40,0 a1.2,1.2 0 1,0 -2.40,0 M486.57,263.08 a1.2,1.2 0 1,0 2.40,0 a1.2,1.2 0 1,0 -2.40,0 M487.71,263.22 a1.2,1.2 0 1,0 2.40,0 a1.2,1.2 0 1,0 -2.40,0 M488.84,263.20 a1.2,1.2 0 1,0 2.40,0 a1.2,1.2 0 1,0 -2.40,0 M489.97,263.89 a1.2,1.2 0 1,0 2.40,0 a1.2,1.2 0 1,0 -2.40,0 M491.10,264.17 a1.2,1.2 0 1,0 2.40,0 a1.2,1.2 0 1,0 -2.40,0 M492.24,264.14 a1.2,1.2 0 1,0 2.40,0 a1.2,1.2 0 1,0 -2.40,0 M493.37,264.53 a1.2,1.2 0 1,0 2.40,0 a1.2,1.2 0 1,0 -2.40,0 M494.50,264.05 a1.2,1.2 0 1,0 2.40,0 a1.2,1.2 0 1,0 -2.40,0 M495.64,264.37 a1.2,1.2 0 1,0 2.40,0 a1.2,1.2 0 1,0 -2.40,0 M496.77,264.70 a1.2,1.2 0 1,0 2.40,0 a1.2,1.2 0 1,0 -2.40,0 M497.90,265.21 a1.2,1.2 0 1,0 2.40,0 a1.2,1.2 0 1,0 -2.40,0 M499.04,265.38 a1.2,1.2 0 1,0 2.40,0 a1.2,1.2 0 1,0 -2.40,0 M500.17,265.15 a1.2,1.2 0 1,0 2.40,0 a1.2,1.2 0 1,0 -2.40,0 M501.30,265.22 a1.2,1.2 0 1,0 2.40,0 a1.2,1.2 0 1,0 -2.40,0 M502.44,265.52 a1.2,1.2 0 1,0 2.40,0 a1.2,1.2 0 1,0 -2.40,0 M503.57,265.73 a1.2,1.2 0 1,0 2.40,0 a1.2,1.2 0 1,0 -2.40,0 M504.70,266.21 a1.2,1.2 0 1,0 2.40,0 a1.2,1.2 0 1,0 -2.40,0 M505.83,265.86 a1.2,1.2 0 1,0 2.40,0 a1.2,1.2 0 1,0 -2.40,0 M506.97,266.46 a1.2,1.2 0 1,0 2.40,0 a1.2,1.2 0 1,0 -2.40,0 M508.10,266.59 a1.2,1.2 0 1,0 2.40,0 a1.2,1.2 0 1,0 -2.40,0 " fill="none" stroke="#FF7F0A" stroke-width="0.7"/>
<path d="M282.63,211.99 a1.2,1.2 0 1,0 2.40,0 a1.2,1.2 0 1,0 -2.40,0 M283.77,211.86 a1.2,1.2 0 1,0 2.40,0 a1.2,1.2 0 1,0 -2.40,0 M284.90,211.67 a1.2,1.2 0 1,0 2.40,0 a1.2,1.2 0 1,0 -2.40,0 M286.03,211.40 a1.2,1.2 0 1,0 2.40,0 a1.2,1.2 0 1,0 -2.40,0 M287.17,211.33 a1.2,1.2 0 1,0 2.40,0 a1.2,1.2 0 1,0 -2.40,0 M288.30,211.30 a1.2,1.2 0 1,0 2.40,0 a1.2,1.2 0 1,0 -2.40,0 M289.43,211.55 a1.2,1.2 0 1,0 2.40,0 a1.2,1.2 0 1,0 -2.40,0 M290.56,211.01 a1.2,1.2 0 1,0 2.40,0 a1.2,1.2 0 1,0 -2.40,0 M291.70,211.05 a1.2,1.2 0 1,0 2.40,0 a1.2,1.2 0 1,0 -2.40,0 M292.83,211.41 a1.2,1.2 0 1,0 2.40,0 a1.2,1.2 0 1,0 -2.40,0 M293.96,211.03 a1.2,1.2 0 1,0 2.40,0 a1.2,1.2 0 1,0 -2.40,0 M295.10,210.89 a1.2,1.2 0 1,0 2.40,0 a1.2,1.2 0 1,0 -2.40,0 M296.23,210.86 a1.2,1.2 0 1,0 2.40,0 a1.2,1.2 0 1,0 -2.40,0 M297.36,211.21 a1.2,1.2 0 1,0 2.40,0 a1.2,1.2 0 1,0 -2.40,0 M298.50,211.05 a1.2,1.2 0 1,0 2.40,0 a1.2,1.2 0 1,0 -2.40,0 M299.63,211.52 a1.2,1.2 0 1,0 2.40,0 a1.2,1.2 0 1,0 -2.40,0 M300.76,211.46 a1.2,1.2 0 1,0 2.40,0 a1.2,1.2 0 1,0 -2.40,0 M301.89,211.55 a1.2,1.2 0 1,0 2.40,0 a1.2,1.2 0 1,0 -2.40,0 M303.03,211.07 a1.2,1.2 0 1,0 2.40,0 a1.2,1.2 0 1,0 -2.40,0 M304.16,210.97 a1.2,1.2 0 1,0 2.40,0 a1.2,1.2 0 1,0 -2.40,0 M305.29,211.01 a1.2,1.2 0 1,0 2.40,0 a1.2,1.2 0 1,0 -2.40,0 M306.43,211.33 a1.2,1.2 0 1,0 2.40,0 a1.2,1.2 0 1,0 -2.40,0 M307.56,211.52 a1.2,1.2 0 1,0 2.40,0 a1.2,1.2 0 1,0 -2.40,0 M308.69,211.38 a1.2,1.2 0 1,0 2.40,0 a1.2,1.2 0 1,0 -2.40,0 M309.82,211.28 a1.2,1.2 0 1,0 2.40,0 a1.2,1.2 0 1,0 -2.40,0 M310.96,211.46 a1.2,1.2 0 1,0 2.40,0 a1.2,1.2 0 1,0 -2.40,0 M312.09,211.67 a1.2,1.2 0 1,0 2.40,0 a1.2,1.2 0 1,0 -2.40,0 M313.22,211.77 a1.2,1.2 0 1,0 2.40,0 a1.2,1.2 0 1,0 -2.40,0 M314.36,211.89 a1.2,1.2 0 1,0 2.40,0 a1.2,1.2 0 1,0 -2.40,0 M315.49,212.03 a1.2,1.2 0 1,0 2.40,0 a1.2,1.2 0 1,0 -2.40,0 M316.62,211.98 a1.2,1.2 0 1,0 2.40,0 a1.2,1.2 0 1,0 -2.40,0 M317.76,211.67 a1.2,1.2 0 1,0 2.40,0 a1.2,1.2 0 1,0 -2.40,0 M318.89,212.26 a1.2,1.2 0 1,0 2.40,0 a1.2,1.2 0 1,0 -2.40,0 M320.02,211.96 a1.2,1.2 0 1,0 2.40,0 a1.2,1.2 0 1,0 -2.40,0 M321.16,212.25 a1.2,1.2 0 1,0 2.40,0 a1.2,1.2 0 1,0 -2.40,0 M322.29,212.20 a1.2,1.2 0 1,0 2.40,0 a1.2,1.2 0 1,0 -2.40,0 M323.42,212.55 a1.2,1.2 0 1,0 2.40,0 a1.2,1.2 0 1,0 -2.40,0 M324.55,212.28 a1.2,1.2 0 1,0 2.40,0 a1.2,1.2 0 1,0 -2.40,0 M325.69,212.41 a1.2,1.2 0 1,0 2.40,0 a1.2,1.2 0 1,0 -2.40,0 M326.82,212.51 a1.2,1.2 0 1,0 2.40,0 a1.2,1.2 0 1,0 -2.40,0 M327.95,212.56 a1.2,1.2 0 1,0 2.40,0 a1.2,1.2 0 1,0 -2.40,0 M329.09,213.18 a1.2,1.2 0 1,0 2.40,0 a1.2,1.2 0 1,0 -2.40,0 M330.22,213.08 a1.2,1.2 0 1,0 2.40,0 a1.2,1.2 0 1,0 -2.40,0 M331.35,213.02 a1.2,1.2 0 1,0 2.40,0 a1.2,1.2 0 1,0 -2.40,0 M332.49,213.18 a1.2,1.2 0 1,0 2.40,0 a1.2,1.2 0 1,0 -2.40,0 M333.62,213.72 a1.2,1.2 0 1,0 2.40,0 a1.2,1.2 0 1,0 -2.40,0 M334.75,213.50 a1.2,1.2 0 1,0 2.40,0 a1.2,1.2 0 1,0 -2.40,0 M335.88,213.43 a1.2,1.2 0 1,0 2.40,0 a1.2,1.2 0 1,0 -2.40,0 M337.02,213.96 a1.2,1.2 0 1,0 2.40,0 a1.2,1.2 0 1,0 -2.40,0 M338.15,213.98 a1.2,1.2 0 1,0 2.40,0 a1.2,1.2 0 1,0 -2.40,0 M339.28,214.34 a1.2,1.2 0 1,0 2.40,0 a1.2,1.2 0 1,0 -2.40,0 M340.42,213.85 a1.2,1.2 0 1,0 2.40,0 a1.2,1.2 0 1,0 -2.40,0 M341.55,214.24 a1.2,1.2 0 1,0 2.40,0 a1.2,1.2 0 1,0 -2.40,0 M342.68,214.62 a1.2,1.2 0 1,0 2.40,0 a1.2,1.2 0 1,0 -2.40,0 M343.81,214.77 a1.2,1.2 0 1,0 2.40,0 a1.2,1.2 0 1,0 -2.40,0 M344.95,214.96 a1.2,1.2 0 1,0 2.40,0 a1.2,1.2 0 1,0 -2.40,0 M346.08,214.48 a1.2,1.2 0 1,0 2.40,0 a1.2,1.2 0 1,0 -2.40,0 M347.21,214.80 a1.2,1.2 0 1,0 2.40,0 a1.2,1.2 0 1,0 -2.40,0 M348.35,214.82 a1.2,1.2 0 1,0 2.40,0 a1.2,1.2 0 1,0 -2.40,0 M349.48,215.01 a1.2,1.2 0 1,0 2.40,0 a1.2,1.2 0 1,0 -2.40,0 M350.61,215.70 a1.2,1.2 0 1,0 2.40,0 a1.2,1.2 0 1,0 -2.40,0 M351.75,215.57 a1.2,1.2 0 1,0 2.40,0 a1.2,1.2 0 1,0 -2.40,0 M352.88,215.95 a1.2,1.2 0 1,0 2.40,0 a1.2,1.2 0 1,0 -2.40,0 M354.01,215.71 a1.2,1.2 0 1,0 2.40,0 a1.2,1.2 0 1,0 -2.40,0 M355.14,216.20 a1.2,1.2 0 1,0 2.40,0 a1.2,1.2 0 1,0 -2.40,0 M356.28,216.05 a1.2,1.2 0 1,0 2.40,0 a1.2,1.2 0 1,0 -2.40,0 M357.41,216.06 a1.2,1.2 0 1,0 2.40,0 a1.2,1.2 0 1,0 -2.40,0 M358.54,216.57 a1.2,1.2 0 1,0 2.40,0 a1.2,1.2 0 1,0 -2.40,0 M359.68,216.84 a1.2,1.2 0 1,0 2.40,0 a1.2,1.2 0 1,0 -2.40,0 M360.81,216.39 a1.2,1.2 0 1,0 2.40,0 a1.2,1.2 0 1,0 -2.40,0 M361.94,216.88 a1.2,1.2 0 1,0 2.40,0 a1.2,1.2 0 1,0 -2.40,0 M363.08,217.05 a1.2,1.2 0 1,0 2.40,0 a1.2,1.2 0 1,0 -2.40,0 M364.21,216.91 a1.2,1.2 0 1,0 2.40,0 a1.2,1.2 0 1,0 -2.40,0 M365.34,217.17 a1.2,1.2 0 1,0 2.40,0 a1.2,1.2 0 1,0 -2.40,0 M366.47,217.16 a1.2,1.2 0 1,0 2.40,0 a1.2,1.2 0 1,0 -2.40,0 M367.61,217.35 a1.2,1.2 0 1,0 2.40,0 a1.2,1.2 0 1,0 -2.40,0 M368.74,217.53 a1.2,1.2 0 1,0 2.40,0 a1.2,1.2 0 1,0 -2.40,0 M369.87,217.92 a1.2,1.2 0 1,0 2.40,0 a1.2,1.2 0 1,0 -2.40,0 M371.01,218.10 a1.2,1.2 0 1,0 2.40,0 a1.2,1.2 0 1,0 -2.40,0 M372.14,217.93 a1.2,1.2 0 1,0 2.40,0 a1.2,1.2 0 1,0 -2.40,0 M373.27,217.95 a1.2,1.2 0 1,0 2.40,0 a1.2,1.2 0 1,0 -2.40,0 M374.41,218.31 a1.2,1.2 0 1,0 2.40,0 a1.2,1.2 0 1,0 -2.40,0 M375.54,218.71 a1.2,1.2 0 1,0 2.40,0 a1.2,1.2 0 1,0 -2.40,0 M376.67,218.51 a1.2,1.2 0 1,0 2.40,0 a1.2,1.2 0 1,0 -2.40,0 M377.81,218.74 a1.2,1.2 0 1,0 2.40,0 a1.2,1.2 0 1,0 -2.40,0 M378.94,218.81 a1.2,1.2 0 1,0 2.40,0 a1.2,1.2 0 1,0 -2.40,0 M380.07,219.36 a1.2,1.2 0 1,0 2.40,0 a1.2,1.2 0 1,0 -2.40,0 M381.20,219.34 a1.2,1.2 0 1,0 2.40,0 a1.2,1.2 0 1,0 -2.40,0 M382.34,219.14 a1.2,1.2 0 1,0 2.40,0 a1.2,1.2 0 1,0 -2.40,0 M383.47,219.31 a1.2,1.2 0 1,0 2.40,0 a1.2,1.2 0 1,0 -2.40,0 M384.60,219.65 a1.2,1.2 0 1,0 2.40,0 a1.2,1.2 0 1,0 -2.40,0 M385.74,219.90 a1.2,1.2 0 1,0 2.40,0 a1.2,1.2 0 1,0 -2.40,0 M386.87,220.10 a1.2,1.2 0 1,0 2.40,0 a1.2,1.2 0 1,0 -2.40,0 M388.00,219.86 a1.2,1.2 0 1,0 2.40,0 a1.2,1.2 0 1,0 -2.40,0 M389.13,220.05 a1.2,1.2 0 1,0 2.40,0 a1.2,1.2 0 1,0 -2.40,0 M390.27,220.56 a1.2,1.2 0 1,0 2.40,0 a1.2,1.2 0 1,0 -2.40,0 M391.40,220.49 a1.2,1.2 0 1,0 2.40,0 a1.2,1.2 0 1,0 -2.40,0 M392.53,220.54 a1.2,1.2 0 1,0 2.40,0 a1.2,1.2 0 1,0 -2.40,0 M393.67,220.69 a1.2,1.2 0 1,0 2.40,0 a1.2,1.2 0 1,0 -2.40,0 M394.80,221.28 a1.2,1.2 0 1,0 2.40,0 a1.2,1.2 0 1,0 -2.40,0 M395.93,220.96 a1.2,1.2 0 1,0 2.40,0 a1.2,1.2 0 1,0 -2.40,0 M397.07,221.27 a1.2,1.2 0 1,0 2.40,0 a1.2,1.2 0 1,0 -2.40,0 M398.20,221.26 a1.2,1.2 0 1,0 2.40,0 a1.2,1.2 0 1,0 -2.40,0 M399.33,221.43 a1.2,1.2 0 1,0 2.40,0 a1.2,1.2 0 1,0 -2.40,0 M400.46,221.87 a1.2,1.2 0 1,0 2.40,0 a1.2,1.2 0 1,0 -2.40,0 M401.60,222.09 a1.2,1.2 0 1,0 2.40,0 a1.2,1.2 0 1,0 -2.40,0 M402.73,221.77 a1.2,1.2 0 1,0 2.40,0 a1.2,1.2 0 1,0 -2.40,0 M403.86,221.78 a1.2,1.2 0 1,0 2.40,0 a1.2,1.2 0 1,0 -2.40,0 M405.00,222.28 a1.2,1.2 0 1,0 2.40,0 a1.2,1.2 0 1,0 -2.40,0 M406.13,222.03 a1.2,1.2 0 1,0 2.40,0 a1.2,1.2 0 1,0 -2.40,0 M407.26,222.02 a1.2,1.2 0 1,0 2.40,0 a1.2,1.2 0 1,0 -2.40,0 M408.40,222.77 a1.2,1.2 0 1,0 2.40,0 a1.2,1.2 0 1,0 -2.40,0 M409.53,222.55 a1.2,1.2 0 1,0 2.40,0 a1.2,1.2 0 1,0 -2.40,0 M410.66,222.95 a1.2,1.2 0 1,0 2.40,0 a1.2,1.2 0 1,0 -2.40,0 M411.80,222.78 a1.2,1.2 0 1,0 2.40,0 a1.2,1.2 0 1,0 -2.40,0 M412.93,223.23 a1.2,1.2 0 1,0 2.40,0 a1.2,1.2 0 1,0 -2.40,0 M414.06,223.05 a1.2,1.2 0 1,0 2.40,0 a1.2,1.2 0 1,0 -2.40,0 M415.19,222.95 a1.2,1.2 0 1,0 2.40,0 a1.2,1.2 0 1,0 -2.40,0 M416.33,222.96 a1.2,1.2 0 1,0 2.40,0 a1.2,1.2 0 1,0 -2.40,0 M417.46,223.45 a1.2,1.2 0 1,0 2.40,0 a1.2,1.2 0 1,0 -2.40,0 M418.59,223.63 a1.2,1.2 0 1,0 2.40,0 a1.2,1.2 0 1,0 -2.40,0 M419.73,223.93 a1.2,1.2 0 1,0 2.40,0 a1.2,1.2 0 1,0 -2.40,0 M420.86,223.46 a1.2,1.2 0 1,0 2.40,0 a1.2,1.2 0 1,0 -2.40,0 M421.99,223.94 a1.2,1.2 0 1,0 2.40,0 a1.2,1.2 0 1,0 -2.40,0 M423.12,223.87 a1.2,1.2 0 1,0 2.40,0 a1.2,1.2 0 1,0 -2.40,0 M424.26,224.07 a1.2,1.2 0 1,0 2.40,0 a1.2,1.2 0 1,0 -2.40,0 M425.39,223.93 a1.2,1.2 0 1,0 2.40,0 a1.2,1.2 0 1,0 -2.40,0 M426.52,224.13 a1.2,1.2 0 1,0 2.40,0 a1.2,1.2 0 1,0 -2.40,0 M427.66,224.40 a1.2,1.2 0 1,0 2.40,0 a1.2,1.2 0 1,0 -2.40,0 M428.79,224.79 a1.2,1.2 0 1,0 2.40,0 a1.2,1.2 0 1,0 -2.40,0 M429.92,224.32 a1.2,1.2 0 1,0 2.40,0 a1.2,1.2 0 1,0 -2.40,0 M431.06,224.68 a1.2,1.2 0 1,0 2.40,0 a1.2,1.2 0 1,0 -2.40,0 M432.19,225.00 a1.2,1.2 0 1,0 2.40,0 a1.2,1.2 0 1,0 -2.40,0 M433.32,225.22 a1.2,1.2 0 1,0 2.40,0 a1.2,1.2 0 1,0 -2.40,0 M434.45,224.78 a1.2,1.2 0 1,0 2.40,0 a1.2,1.2 0 1,0 -2.40,0 M435.59,224.82 a1.2,1.2 0 1,0 2.40,0 a1.2,1.2 0 1,0 -2.40,0 M436.72,225.49 a1.2,1.2 0 1,0 2.40,0 a1.2,1.2 0 1,0 -2.40,0 M437.85,225.61 a1.2,1.2 0 1,0 2.40,0 a1.2,1.2 0 1,0 -2.40,0 M438.99,225.36 a1.2,1.2 0 1,0 2.40,0 a1.2,1.2 0 1,0 -2.40,0 M440.12,225.16 a1.2,1.2 0 1,0 2.40,0 a1.2,1.2 0 1,0 -2.40,0 M441.25,225.86 a1.2,1.2 0 1,0 2.40,0 a1.2,1.2 0 1,0 -2.40,0 M442.39,225.58 a1.2,1.2 0 1,0 2.40,0 a1.2,1.2 0 1,0 -2.40,0 M443.52,226.03 a1.2,1.2 0 1,0 2.40,0 a1.2,1.2 0 1,0 -2.40,0 M444.65,225.93 a1.2,1.2 0 1,0 2.40,0 a1.2,1.2 0 1,0 -2.40,0 M445.79,226.16 a1.2,1.2 0 1,0 2.40,0 a1.2,1.2 0 1,0 -2.40,0 M446.92,225.79 a1.2,1.2 0 1,0 2.40,0 a1.2,1.2 0 1,0 -2.40,0 M448.05,226.32 a1.2,1.2 0 1,0 2.40,0 a1.2,1.2 0 1,0 -2.40,0 M449.18,226.02 a1.2,1.2 0 1,0 2.40,0 a1.2,1.2 0 1,0 -2.40,0 M450.32,226.24 a1.2,1.2 0 1,0 2.40,0 a1.2,1.2 0 1,0 -2.40,0 M451.45,226.64 a1.2,1.2 0 1,0 2.40,0 a1.2,1.2 0 1,0 -2.40,0 M452.58,226.71 a1.2,1.2 0 1,0 2.40,0 a1.2,1.2 0 1,0 -2.40,0 M453.72,226.35 a1.2,1.2 0 1,0 2.40,0 a1.2,1.2 0 1,0 -2.40,0 M454.85,226.47 a1.2,1.2 0 1,0 2.40,0 a1.2,1.2 0 1,0 -2.40,0 M455.98,226.69 a1.2,1.2 0 1,0 2.40,0 a1.2,1.2 0 1,0 -2.40,0 M457.12,226.86 a1.2,1.2 0 1,0 2.40,0 a1.2,1.2 0 1,0 -2.40,0 M458.25,226.86 a1.2,1.2 0 1,0 2.40,0 a1.2,1.2 0 1,0 -2.40,0 M459.38,226.76 a1.2,1.2 0 1,0 2.40,0 a1.2,1.2 0 1,0 -2.40,0 M460.51,226.94 a1.2,1.2 0 1,0 2.40,0 a1.2,1.2 0 1,0 -2.40,0 M461.65,227.37 a1.2,1.2 0 1,0 2.40,0 a1.2,1.2 0 1,0 -2.40,0 M462.78,227.58 a1.2,1.2 0 1,0 2.40,0 a1.2,1.2 0 1,0 -2.40,0 M463.91,227.07 a1.2,1.2 0 1,0 2.40,0 a1.2,1.2 0 1,0 -2.40,0 M465.05,227.53 a1.2,1.2 0 1,0 2.40,0 a1.2,1.2 0 1,0 -2.40,0 M466.18,227.76 a1.2,1.2 0 1,0 2.40,0 a1.2,1.2 0 1,0 -2.40,0 M467.31,227.35 a1.2,1.2 0 1,0 2.40,0 a1.2,1.2 0 1,0 -2.40,0 M468.44,228.01 a1.2,1.2 0 1,0 2.40,0 a1.2,1.2 0 1,0 -2.40,0 M469.58,227.60 a1.2,1.2 0 1,0 2.40,0 a1.2,1.2 0 1,0 -2.40,0 M470.71,228.93 a1.2,1.2 0 1,0 2.40,0 a1.2,1.2 0 1,0 -2.40,0 M471.84,228.99 a1.2,1.2 0 1,0 2.40,0 a1.2,1.2 0 1,0 -2.40,0 M472.98,229.14 a1.2,1.2 0 1,0 2.40,0 a1.2,1.2 0 1,0 -2.40,0 M474.11,229.02 a1.2,1.2 0 1,0 2.40,0 a1.2,1.2 0 1,0 -2.40,0 M475.24,229.20 a1.2,1.2 0 1,0 2.40,0 a1.2,1.2 0 1,0 -2.40,0 M476.38,229.41 a1.2,1.2 0 1,0 2.40,0 a1.2,1.2 0 1,0 -2.40,0 M477.51,229.41 a1.2,1.2 0 1,0 2.40,0 a1.2,1.2 0 1,0 -2.40,0 M478.64,229.67 a1.2,1.2 0 1,0 2.40,0 a1.2,1.2 0 1,0 -2.40,0 M479.78,229.63 a1.2,1.2 0 1,0 2.40,0 a1.2,1.2 0 1,0 -2.40,0 M480.91,229.73 a1.2,1.2 0 1,0 2.40,0 a1.2,1.2 0 1,0 -2.40,0 M482.04,229.55 a1.2,1.2 0 1,0 2.40,0 a1.2,1.2 0 1,0 -2.40,0 M483.17,230.08 a1.2,1.2 0 1,0 2.40,0 a1.2,1.2 0 1,0 -2.40,0 M484.31,230.10 a1.2,1.2 0 1,0 2.40,0 a1.2,1.2 0 1,0 -2.40,0 M485.44,230.04 a1.2,1.2 0 1,0 2.40,0 a1.2,1.2 0 1,0 -2.40,0 M486.57,230.52 a1.2,1.2 0 1,0 2.40,0 a1.2,1.2 0 1,0 -2.40,0 M487.71,230.65 a1.2,1.2 0 1,0 2.40,0 a1.2,1.2 0 1,0 -2.40,0 M488.84,230.55 a1.2,1.2 0 1,0 2.40,0 a1.2,1.2 0 1,0 -2.40,0 M489.97,230.47 a1.2,1.2 0 1,0 2.40,0 a1.2,1.2 0 1,0 -2.40,0 M491.10,230.81 a1.2,1.2 0 1,0 2.40,0 a1.2,1.2 0 1,0 -2.40,0 M492.24,230.68 a1.2,1.2 0 1,0 2.40,0 a1.2,1.2 0 1,0 -2.40,0 M493.37,230.82 a1.2,1.2 0 1,0 2.40,0 a1.2,1.2 0 1,0 -2.40,0 M494.50,231.17 a1.2,1.2 0 1,0 2.40,0 a1.2,1.2 0 1,0 -2.40,0 M495.64,231.06 a1.2,1.2 0 1,0 2.40,0 a1.2,1.2 0 1,0 -2.40,0 M496.77,231.45 a1.2,1.2 0 1,0 2.40,0 a1.2,1.2 0 1,0 -2.40,0 M497.90,231.64 a1.2,1.2 0 1,0 2.40,0 a1.2,1.2 0 1,0 -2.40,0 M499.04,231.45 a1.2,1.2 0 1,0 2.40,0 a1.2,1.2 0 1,0 -2.40,0 M500.17,232.02 a1.2,1.2 0 1,0 2.40,0 a1.2,1.2 0 1,0 -2.40,0 M501.30,231.78 a1.2,1.2 0 1,0 2.40,0 a1.2,1.2 0 1,0 -2.40,0 M502.44,232.39 a1.2,1.2 0 1,0 2.40,0 a1.2,1.2 0 1,0 -2.40,0 M503.57,232.58 a1.2,1.2 0 1,0 2.40,0 a1.2,1.2 0 1,0 -2.40,0 M504.70,232.56 a1.2,1.2 0 1,0 2.40,0 a1.2,1.2 0 1,0 -2.40,0 M505.83,232.40 a1.2,1.2 0 1,0 2.40,0 a1.2,1.2 0 1,0 -2.40,0 M506.97,232.89 a1.2,1.2 0 1,0 2.40,0 a1.2,1.2 0 1,0 -2.40,0 M508.10,232.97 a1.2,1.2 0 1,0 2.40,0 a1.2,1.2 0 1,0 -2.40,0 " fill="none" stroke="#0A8CFF" stroke-width="0.7"/>
<rect x="33.1" y="376.5" width="207.30" height="139.80" fill="none" stroke="#000" stroke-width="1.5"/>
<path d="M35.60,516.3 V518.9M74.96,516.3 V518.9M114.32,516.3 V518.9M153.68,516.3 V518.9M193.04,516.3 V518.9M232.40,516.3 V518.9M55.28,516.3 V518.0999999999999M94.64,516.3 V518.0999999999999M134.00,516.3 V518.0999999999999M173.36,516.3 V518.0999999999999M212.72,516.3 V518.0999999999999M33.1,516.30 H30.5M33.1,482.98 H30.5M33.1,449.65 H30.5M33.1,416.32 H30.5M33.1,383.00 H30.5M33.1,499.64 H31.3M33.1,466.31 H31.3M33.1,432.99 H31.3M33.1,399.66 H31.3" stroke="#000" stroke-width="1.2" fill="none"/>
<text x="35.60" y="528.30" font-size="9.8" text-anchor="middle" font-weight="bold" >0</text>
<text x="74.96" y="528.30" font-size="9.8" text-anchor="middle" font-weight="bold" >50</text>
<text x="114.32" y="528.30" font-size="9.8" text-anchor="middle" font-weight="bold" >100</text>
<text x="153.68" y="528.30" font-size="9.8" text-anchor="middle" font-weight="bold" >150</text>
<text x="193.04" y="528.30" font-size="9.8" text-anchor="middle" font-weight="bold" >200</text>
<text x="232.40" y="528.30" font-size="9.8" text-anchor="middle" font-weight="bold" >250</text>
<text x="28.40" y="519.70" font-size="9.8" text-anchor="end" font-weight="bold" >2.5</text>
<text x="28.40" y="486.38" font-size="9.8" text-anchor="end" font-weight="bold" >3.0</text>
<text x="28.40" y="453.05" font-size="9.8" text-anchor="end" font-weight="bold" >3.5</text>
<text x="28.40" y="419.72" font-size="9.8" text-anchor="end" font-weight="bold" >4.0</text>
<text x="28.40" y="386.40" font-size="9.8" text-anchor="end" font-weight="bold" >4.5</text>
<text x="5.60" y="382.60" font-size="20.5" text-anchor="start" font-weight="bold" >e</text>
<text transform="translate(11.2,441.2) rotate(-90)" font-size="9.95" text-anchor="middle" font-weight="bold">Potential (V vs. Li/Li<tspan dy="-4.18" font-size="8.96">+</tspan><tspan dy="4.18">)</tspan></text>
<text x="67.6" y="542.3" font-size="11.66" font-weight="bold">Specific capacity (mAh g</text>
<text x="192.1" y="540.0" font-size="10.8" font-weight="bold">-1</text>
<text x="202.0" y="542.3" font-size="11.66" font-weight="bold">)</text>
<text x="38.30" y="469.8" font-size="12.4" font-weight="bold">0.1 C 2.8-4.5 V</text>
<text x="123.00" y="469.8" font-size="12.4" font-weight="bold">55 °C</text>
<path d="M46.1,494.8 H66.8" stroke="#FF7F0A" stroke-width="1.8"/>
<path d="M46.1,506.0 H66.8" stroke="#0A8CFF" stroke-width="1.8"/>
<text x="69.40" y="498.10" font-size="9.3" text-anchor="start" font-weight="bold" >SCNCM ICE:90.9%</text>
<text x="69.40" y="509.50" font-size="9.3" text-anchor="start" font-weight="bold" >SCNCM/(ALP+BA)−1 ICE:93.4%</text>
<path d="M36.30,500.00 C36.30,495.00 36.30,478.58 36.30,470.00 C36.30,461.42 36.10,452.33 36.30,448.50 C36.50,444.67 36.63,447.40 37.50,447.00 C38.37,446.60 38.90,446.45 41.50,446.10 C44.10,445.75 49.25,445.48 53.10,444.90 C56.95,444.32 60.75,443.37 64.60,442.60 C68.45,441.83 71.97,441.17 76.20,440.30 C80.43,439.43 81.62,439.13 90.00,437.40 C98.38,435.67 116.00,432.63 126.50,429.90 C137.00,427.17 145.70,423.53 153.00,421.00 C160.30,418.47 164.53,417.07 170.30,414.70 C176.07,412.33 183.85,408.33 187.60,406.80 C191.35,405.27 189.92,406.07 192.80,405.50 C195.68,404.93 201.43,404.15 204.90,403.40 C208.37,402.65 210.83,402.07 213.60,401.00 C216.37,399.93 219.35,398.75 221.50,397.00 C223.65,395.25 225.08,392.87 226.50,390.50 C227.92,388.13 229.42,384.08 230.00,382.80" fill="none" stroke="#FF7F0A" stroke-width="2.2" stroke-linecap="round" stroke-linejoin="round"/>
<path d="M35.30,386.30 C35.88,387.58 37.27,391.67 38.80,394.00 C40.33,396.33 42.58,398.68 44.50,400.30 C46.42,401.92 48.37,403.00 50.30,403.70 C52.23,404.40 53.60,404.18 56.10,404.50 C58.60,404.82 63.00,405.17 65.30,405.60 C67.60,406.03 67.58,406.17 69.90,407.10 C72.22,408.03 75.35,409.57 79.20,411.20 C83.05,412.83 85.12,413.83 93.00,416.90 C100.88,419.97 116.50,426.63 126.50,429.60 C136.50,432.57 144.75,432.83 153.00,434.70 C161.25,436.57 170.05,439.03 176.00,440.80 C181.95,442.57 184.47,443.92 188.70,445.30 C192.93,446.68 199.28,448.38 201.40,449.10 C203.52,449.82 200.60,448.88 201.40,449.60 C202.20,450.32 205.00,451.75 206.20,453.40 C207.40,455.05 207.90,456.62 208.60,459.50 C209.30,462.38 209.88,466.72 210.40,470.70 C210.92,474.68 211.38,479.15 211.70,483.40 C212.02,487.65 212.20,494.07 212.30,496.20" fill="none" stroke="#FF7F0A" stroke-width="2.2" stroke-linecap="round" stroke-linejoin="round"/>
<path d="M36.30,500.00 C36.30,495.00 36.30,478.67 36.30,470.00 C36.30,461.33 36.10,451.92 36.30,448.00 C36.50,444.08 36.63,446.90 37.50,446.50 C38.37,446.10 38.90,445.95 41.50,445.60 C44.10,445.25 49.25,444.98 53.10,444.40 C56.95,443.82 60.75,442.87 64.60,442.10 C68.45,441.33 71.97,440.67 76.20,439.80 C80.43,438.93 81.62,438.60 90.00,436.90 C98.38,435.20 116.00,432.33 126.50,429.60 C137.00,426.87 145.70,423.07 153.00,420.50 C160.30,417.93 164.53,416.57 170.30,414.20 C176.07,411.83 183.85,407.83 187.60,406.30 C191.35,404.77 189.92,405.57 192.80,405.00 C195.68,404.43 201.43,403.68 204.90,402.90 C208.37,402.12 211.00,401.62 213.60,400.30 C216.20,398.98 218.78,396.92 220.50,395.00 C222.22,393.08 223.03,390.83 223.90,388.80 C224.77,386.77 225.40,383.80 225.70,382.80" fill="none" stroke="#0A8CFF" stroke-width="2.2" stroke-linecap="round" stroke-linejoin="round"/>
<path d="M35.30,388.10 C35.88,389.25 37.27,392.88 38.80,395.00 C40.33,397.12 42.58,399.35 44.50,400.80 C46.42,402.25 48.37,403.08 50.30,403.70 C52.23,404.32 53.60,404.18 56.10,404.50 C58.60,404.82 63.00,405.17 65.30,405.60 C67.60,406.03 67.58,406.17 69.90,407.10 C72.22,408.03 75.35,409.57 79.20,411.20 C83.05,412.83 85.12,413.83 93.00,416.90 C100.88,419.97 116.50,426.63 126.50,429.60 C136.50,432.57 144.75,432.83 153.00,434.70 C161.25,436.57 170.05,439.03 176.00,440.80 C181.95,442.57 184.47,443.92 188.70,445.30 C192.93,446.68 198.43,447.83 201.40,449.10 C204.37,450.37 205.22,451.20 206.50,452.90 C207.78,454.60 208.35,456.33 209.10,459.30 C209.85,462.27 210.47,466.68 211.00,470.70 C211.53,474.72 211.98,479.15 212.30,483.40 C212.62,487.65 212.80,494.07 212.90,496.20" fill="none" stroke="#0A8CFF" stroke-width="2.2" stroke-linecap="round" stroke-linejoin="round"/>
<rect x="280.3" y="378.5" width="234.30" height="139.90" fill="none" stroke="#000" stroke-width="1.5"/>
<path d="M280.50,518.4 V521.0M325.12,518.4 V521.0M369.74,518.4 V521.0M414.36,518.4 V521.0M458.98,518.4 V521.0M503.60,518.4 V521.0M302.81,518.4 V520.1999999999999M347.43,518.4 V520.1999999999999M392.05,518.4 V520.1999999999999M436.67,518.4 V520.1999999999999M481.29,518.4 V520.1999999999999M280.3,518.40 H277.7M280.3,495.08 H277.7M280.3,471.76 H277.7M280.3,448.44 H277.7M280.3,425.12 H277.7M280.3,401.80 H277.7M280.3,378.48 H277.7M280.3,506.74 H278.5M280.3,483.42 H278.5M280.3,460.10 H278.5M280.3,436.78 H278.5M280.3,413.46 H278.5M280.3,390.14 H278.5" stroke="#000" stroke-width="1.2" fill="none"/>
<text x="280.50" y="531.30" font-size="9.8" text-anchor="middle" font-weight="bold" >0</text>
<text x="325.12" y="531.30" font-size="9.8" text-anchor="middle" font-weight="bold" >20</text>
<text x="369.74" y="531.30" font-size="9.8" text-anchor="middle" font-weight="bold" >40</text>
<text x="414.36" y="531.30" font-size="9.8" text-anchor="middle" font-weight="bold" >60</text>
<text x="458.98" y="531.30" font-size="9.8" text-anchor="middle" font-weight="bold" >80</text>
<text x="503.60" y="531.30" font-size="9.8" text-anchor="middle" font-weight="bold" >100</text>
<text x="275.00" y="521.80" font-size="9.8" text-anchor="end" font-weight="bold" >0</text>
<text x="275.00" y="498.48" font-size="9.8" text-anchor="end" font-weight="bold" >40</text>
<text x="275.00" y="475.16" font-size="9.8" text-anchor="end" font-weight="bold" >80</text>
<text x="275.00" y="451.84" font-size="9.8" text-anchor="end" font-weight="bold" >120</text>
<text x="275.00" y="428.52" font-size="9.8" text-anchor="end" font-weight="bold" >160</text>
<text x="275.00" y="405.20" font-size="9.8" text-anchor="end" font-weight="bold" >200</text>
<text x="275.00" y="381.88" font-size="9.8" text-anchor="end" font-weight="bold" >240</text>
<text x="250.60" y="381.60" font-size="19.5" text-anchor="start" font-weight="bold" >f</text>
<text transform="translate(257.0,449.6) rotate(-90)" font-size="9.9" text-anchor="middle" font-weight="bold">Specific capacity <tspan font-weight="bold">(mAh g<tspan dy="-3.17" font-size="8.42">-1</tspan><tspan dy="3.17">)</tspan></tspan></text>
<text x="357.40" y="545.50" font-size="13.05" text-anchor="start" font-weight="bold" >Cycle Number</text>
<text x="288.20" y="469.8" font-size="12.4" font-weight="bold">1 C 2.8-4.5 V</text>
<text x="362.30" y="469.8" font-size="12.4" font-weight="bold">55 °C</text>
<path d="M283.3,495.4 H305.6" stroke="#FF7F0A" stroke-width="1.0"/>
<circle cx="294.45" cy="495.4" r="1.15" fill="#FF7F0A" fill-opacity="0.45" stroke="#FF7F0A" stroke-width="0.85"/>
<path d="M283.3,507.9 H305.6" stroke="#0A8CFF" stroke-width="1.0"/>
<circle cx="294.45" cy="507.9" r="1.15" fill="#0A8CFF" fill-opacity="0.45" stroke="#0A8CFF" stroke-width="0.85"/>
<text x="308.30" y="499.00" font-size="9.9" text-anchor="start" font-weight="bold" >SCNCM</text>
<text x="308.30" y="511.40" font-size="9.9" text-anchor="start" font-weight="bold" >SCNCM/(ALP+BA)−1</text>
<path d="M281.43,404.16 a1.3,1.3 0 1,0 2.60,0 a1.3,1.3 0 1,0 -2.60,0 M283.66,404.04 a1.3,1.3 0 1,0 2.60,0 a1.3,1.3 0 1,0 -2.60,0 M285.89,404.84 a1.3,1.3 0 1,0 2.60,0 a1.3,1.3 0 1,0 -2.60,0 M288.12,405.29 a1.3,1.3 0 1,0 2.60,0 a1.3,1.3 0 1,0 -2.60,0 M290.35,405.99 a1.3,1.3 0 1,0 2.60,0 a1.3,1.3 0 1,0 -2.60,0 M292.59,406.93 a1.3,1.3 0 1,0 2.60,0 a1.3,1.3 0 1,0 -2.60,0 M294.82,407.44 a1.3,1.3 0 1,0 2.60,0 a1.3,1.3 0 1,0 -2.60,0 M297.05,408.80 a1.3,1.3 0 1,0 2.60,0 a1.3,1.3 0 1,0 -2.60,0 M299.28,409.39 a1.3,1.3 0 1,0 2.60,0 a1.3,1.3 0 1,0 -2.60,0 M301.51,410.44 a1.3,1.3 0 1,0 2.60,0 a1.3,1.3 0 1,0 -2.60,0 M303.74,411.15 a1.3,1.3 0 1,0 2.60,0 a1.3,1.3 0 1,0 -2.60,0 M305.97,411.43 a1.3,1.3 0 1,0 2.60,0 a1.3,1.3 0 1,0 -2.60,0 M308.20,412.54 a1.3,1.3 0 1,0 2.60,0 a1.3,1.3 0 1,0 -2.60,0 M310.43,413.36 a1.3,1.3 0 1,0 2.60,0 a1.3,1.3 0 1,0 -2.60,0 M312.66,413.57 a1.3,1.3 0 1,0 2.60,0 a1.3,1.3 0 1,0 -2.60,0 M314.90,414.48 a1.3,1.3 0 1,0 2.60,0 a1.3,1.3 0 1,0 -2.60,0 M317.13,415.45 a1.3,1.3 0 1,0 2.60,0 a1.3,1.3 0 1,0 -2.60,0 M319.36,415.83 a1.3,1.3 0 1,0 2.60,0 a1.3,1.3 0 1,0 -2.60,0 M321.59,417.01 a1.3,1.3 0 1,0 2.60,0 a1.3,1.3 0 1,0 -2.60,0 M323.82,417.34 a1.3,1.3 0 1,0 2.60,0 a1.3,1.3 0 1,0 -2.60,0 M326.05,418.35 a1.3,1.3 0 1,0 2.60,0 a1.3,1.3 0 1,0 -2.60,0 M328.28,418.62 a1.3,1.3 0 1,0 2.60,0 a1.3,1.3 0 1,0 -2.60,0 M330.51,419.52 a1.3,1.3 0 1,0 2.60,0 a1.3,1.3 0 1,0 -2.60,0 M332.74,420.45 a1.3,1.3 0 1,0 2.60,0 a1.3,1.3 0 1,0 -2.60,0 M334.97,420.70 a1.3,1.3 0 1,0 2.60,0 a1.3,1.3 0 1,0 -2.60,0 M337.21,421.41 a1.3,1.3 0 1,0 2.60,0 a1.3,1.3 0 1,0 -2.60,0 M339.44,422.24 a1.3,1.3 0 1,0 2.60,0 a1.3,1.3 0 1,0 -2.60,0 M341.67,422.80 a1.3,1.3 0 1,0 2.60,0 a1.3,1.3 0 1,0 -2.60,0 M343.90,423.31 a1.3,1.3 0 1,0 2.60,0 a1.3,1.3 0 1,0 -2.60,0 M346.13,424.07 a1.3,1.3 0 1,0 2.60,0 a1.3,1.3 0 1,0 -2.60,0 M348.36,424.67 a1.3,1.3 0 1,0 2.60,0 a1.3,1.3 0 1,0 -2.60,0 M350.59,425.74 a1.3,1.3 0 1,0 2.60,0 a1.3,1.3 0 1,0 -2.60,0 M352.82,426.19 a1.3,1.3 0 1,0 2.60,0 a1.3,1.3 0 1,0 -2.60,0 M355.05,426.92 a1.3,1.3 0 1,0 2.60,0 a1.3,1.3 0 1,0 -2.60,0 M357.28,427.09 a1.3,1.3 0 1,0 2.60,0 a1.3,1.3 0 1,0 -2.60,0 M359.52,428.07 a1.3,1.3 0 1,0 2.60,0 a1.3,1.3 0 1,0 -2.60,0 M361.75,428.27 a1.3,1.3 0 1,0 2.60,0 a1.3,1.3 0 1,0 -2.60,0 M363.98,429.13 a1.3,1.3 0 1,0 2.60,0 a1.3,1.3 0 1,0 -2.60,0 M366.21,429.80 a1.3,1.3 0 1,0 2.60,0 a1.3,1.3 0 1,0 -2.60,0 M368.44,430.24 a1.3,1.3 0 1,0 2.60,0 a1.3,1.3 0 1,0 -2.60,0 M370.67,431.15 a1.3,1.3 0 1,0 2.60,0 a1.3,1.3 0 1,0 -2.60,0 M372.90,433.77 a1.3,1.3 0 1,0 2.60,0 a1.3,1.3 0 1,0 -2.60,0 M375.13,432.32 a1.3,1.3 0 1,0 2.60,0 a1.3,1.3 0 1,0 -2.60,0 M377.36,433.01 a1.3,1.3 0 1,0 2.60,0 a1.3,1.3 0 1,0 -2.60,0 M379.59,433.05 a1.3,1.3 0 1,0 2.60,0 a1.3,1.3 0 1,0 -2.60,0 M381.83,434.09 a1.3,1.3 0 1,0 2.60,0 a1.3,1.3 0 1,0 -2.60,0 M384.06,434.38 a1.3,1.3 0 1,0 2.60,0 a1.3,1.3 0 1,0 -2.60,0 M386.29,434.75 a1.3,1.3 0 1,0 2.60,0 a1.3,1.3 0 1,0 -2.60,0 M388.52,435.50 a1.3,1.3 0 1,0 2.60,0 a1.3,1.3 0 1,0 -2.60,0 M390.75,435.69 a1.3,1.3 0 1,0 2.60,0 a1.3,1.3 0 1,0 -2.60,0 M392.98,436.63 a1.3,1.3 0 1,0 2.60,0 a1.3,1.3 0 1,0 -2.60,0 M395.21,436.87 a1.3,1.3 0 1,0 2.60,0 a1.3,1.3 0 1,0 -2.60,0 M397.44,437.23 a1.3,1.3 0 1,0 2.60,0 a1.3,1.3 0 1,0 -2.60,0 M399.67,437.95 a1.3,1.3 0 1,0 2.60,0 a1.3,1.3 0 1,0 -2.60,0 M401.90,438.24 a1.3,1.3 0 1,0 2.60,0 a1.3,1.3 0 1,0 -2.60,0 M404.14,438.56 a1.3,1.3 0 1,0 2.60,0 a1.3,1.3 0 1,0 -2.60,0 M406.37,439.39 a1.3,1.3 0 1,0 2.60,0 a1.3,1.3 0 1,0 -2.60,0 M408.60,439.45 a1.3,1.3 0 1,0 2.60,0 a1.3,1.3 0 1,0 -2.60,0 M410.83,440.40 a1.3,1.3 0 1,0 2.60,0 a1.3,1.3 0 1,0 -2.60,0 M413.06,440.54 a1.3,1.3 0 1,0 2.60,0 a1.3,1.3 0 1,0 -2.60,0 M415.29,441.26 a1.3,1.3 0 1,0 2.60,0 a1.3,1.3 0 1,0 -2.60,0 M417.52,441.93 a1.3,1.3 0 1,0 2.60,0 a1.3,1.3 0 1,0 -2.60,0 M419.75,442.13 a1.3,1.3 0 1,0 2.60,0 a1.3,1.3 0 1,0 -2.60,0 M421.98,442.61 a1.3,1.3 0 1,0 2.60,0 a1.3,1.3 0 1,0 -2.60,0 M424.21,442.83 a1.3,1.3 0 1,0 2.60,0 a1.3,1.3 0 1,0 -2.60,0 M426.45,443.08 a1.3,1.3 0 1,0 2.60,0 a1.3,1.3 0 1,0 -2.60,0 M428.68,443.53 a1.3,1.3 0 1,0 2.60,0 a1.3,1.3 0 1,0 -2.60,0 M430.91,444.04 a1.3,1.3 0 1,0 2.60,0 a1.3,1.3 0 1,0 -2.60,0 M433.14,444.75 a1.3,1.3 0 1,0 2.60,0 a1.3,1.3 0 1,0 -2.60,0 M435.37,445.07 a1.3,1.3 0 1,0 2.60,0 a1.3,1.3 0 1,0 -2.60,0 M437.60,445.56 a1.3,1.3 0 1,0 2.60,0 a1.3,1.3 0 1,0 -2.60,0 M439.83,446.22 a1.3,1.3 0 1,0 2.60,0 a1.3,1.3 0 1,0 -2.60,0 M442.06,446.20 a1.3,1.3 0 1,0 2.60,0 a1.3,1.3 0 1,0 -2.60,0 M444.29,446.69 a1.3,1.3 0 1,0 2.60,0 a1.3,1.3 0 1,0 -2.60,0 M446.52,447.38 a1.3,1.3 0 1,0 2.60,0 a1.3,1.3 0 1,0 -2.60,0 M448.76,447.43 a1.3,1.3 0 1,0 2.60,0 a1.3,1.3 0 1,0 -2.60,0 M450.99,448.75 a1.3,1.3 0 1,0 2.60,0 a1.3,1.3 0 1,0 -2.60,0 M453.22,450.75 a1.3,1.3 0 1,0 2.60,0 a1.3,1.3 0 1,0 -2.60,0 M455.45,449.29 a1.3,1.3 0 1,0 2.60,0 a1.3,1.3 0 1,0 -2.60,0 M457.68,449.36 a1.3,1.3 0 1,0 2.60,0 a1.3,1.3 0 1,0 -2.60,0 M459.91,449.61 a1.3,1.3 0 1,0 2.60,0 a1.3,1.3 0 1,0 -2.60,0 M462.14,450.15 a1.3,1.3 0 1,0 2.60,0 a1.3,1.3 0 1,0 -2.60,0 M464.37,450.48 a1.3,1.3 0 1,0 2.60,0 a1.3,1.3 0 1,0 -2.60,0 M466.60,450.57 a1.3,1.3 0 1,0 2.60,0 a1.3,1.3 0 1,0 -2.60,0 M468.83,451.15 a1.3,1.3 0 1,0 2.60,0 a1.3,1.3 0 1,0 -2.60,0 M471.07,451.38 a1.3,1.3 0 1,0 2.60,0 a1.3,1.3 0 1,0 -2.60,0 M473.30,451.51 a1.3,1.3 0 1,0 2.60,0 a1.3,1.3 0 1,0 -2.60,0 M475.53,452.43 a1.3,1.3 0 1,0 2.60,0 a1.3,1.3 0 1,0 -2.60,0 M477.76,452.60 a1.3,1.3 0 1,0 2.60,0 a1.3,1.3 0 1,0 -2.60,0 M479.99,453.12 a1.3,1.3 0 1,0 2.60,0 a1.3,1.3 0 1,0 -2.60,0 M482.22,453.67 a1.3,1.3 0 1,0 2.60,0 a1.3,1.3 0 1,0 -2.60,0 M484.45,454.58 a1.3,1.3 0 1,0 2.60,0 a1.3,1.3 0 1,0 -2.60,0 M486.68,454.98 a1.3,1.3 0 1,0 2.60,0 a1.3,1.3 0 1,0 -2.60,0 M488.91,454.48 a1.3,1.3 0 1,0 2.60,0 a1.3,1.3 0 1,0 -2.60,0 M491.14,453.80 a1.3,1.3 0 1,0 2.60,0 a1.3,1.3 0 1,0 -2.60,0 M493.38,453.48 a1.3,1.3 0 1,0 2.60,0 a1.3,1.3 0 1,0 -2.60,0 M495.61,453.88 a1.3,1.3 0 1,0 2.60,0 a1.3,1.3 0 1,0 -2.60,0 M497.84,454.81 a1.3,1.3 0 1,0 2.60,0 a1.3,1.3 0 1,0 -2.60,0 M500.07,455.31 a1.3,1.3 0 1,0 2.60,0 a1.3,1.3 0 1,0 -2.60,0 M502.30,455.71 a1.3,1.3 0 1,0 2.60,0 a1.3,1.3 0 1,0 -2.60,0 " fill="none" stroke="#FF7F0A" stroke-width="0.9"/>
<path d="M281.43,398.66 a1.3,1.3 0 1,0 2.60,0 a1.3,1.3 0 1,0 -2.60,0 M283.66,398.87 a1.3,1.3 0 1,0 2.60,0 a1.3,1.3 0 1,0 -2.60,0 M285.89,399.49 a1.3,1.3 0 1,0 2.60,0 a1.3,1.3 0 1,0 -2.60,0 M288.12,399.69 a1.3,1.3 0 1,0 2.60,0 a1.3,1.3 0 1,0 -2.60,0 M290.35,399.72 a1.3,1.3 0 1,0 2.60,0 a1.3,1.3 0 1,0 -2.60,0 M292.59,400.44 a1.3,1.3 0 1,0 2.60,0 a1.3,1.3 0 1,0 -2.60,0 M294.82,400.22 a1.3,1.3 0 1,0 2.60,0 a1.3,1.3 0 1,0 -2.60,0 M297.05,400.78 a1.3,1.3 0 1,0 2.60,0 a1.3,1.3 0 1,0 -2.60,0 M299.28,400.96 a1.3,1.3 0 1,0 2.60,0 a1.3,1.3 0 1,0 -2.60,0 M301.51,401.13 a1.3,1.3 0 1,0 2.60,0 a1.3,1.3 0 1,0 -2.60,0 M303.74,401.28 a1.3,1.3 0 1,0 2.60,0 a1.3,1.3 0 1,0 -2.60,0 M305.97,401.98 a1.3,1.3 0 1,0 2.60,0 a1.3,1.3 0 1,0 -2.60,0 M308.20,401.78 a1.3,1.3 0 1,0 2.60,0 a1.3,1.3 0 1,0 -2.60,0 M310.43,402.36 a1.3,1.3 0 1,0 2.60,0 a1.3,1.3 0 1,0 -2.60,0 M312.66,402.86 a1.3,1.3 0 1,0 2.60,0 a1.3,1.3 0 1,0 -2.60,0 M314.90,402.64 a1.3,1.3 0 1,0 2.60,0 a1.3,1.3 0 1,0 -2.60,0 M317.13,402.94 a1.3,1.3 0 1,0 2.60,0 a1.3,1.3 0 1,0 -2.60,0 M319.36,403.45 a1.3,1.3 0 1,0 2.60,0 a1.3,1.3 0 1,0 -2.60,0 M321.59,403.65 a1.3,1.3 0 1,0 2.60,0 a1.3,1.3 0 1,0 -2.60,0 M323.82,404.00 a1.3,1.3 0 1,0 2.60,0 a1.3,1.3 0 1,0 -2.60,0 M326.05,404.37 a1.3,1.3 0 1,0 2.60,0 a1.3,1.3 0 1,0 -2.60,0 M328.28,404.26 a1.3,1.3 0 1,0 2.60,0 a1.3,1.3 0 1,0 -2.60,0 M330.51,404.61 a1.3,1.3 0 1,0 2.60,0 a1.3,1.3 0 1,0 -2.60,0 M332.74,404.88 a1.3,1.3 0 1,0 2.60,0 a1.3,1.3 0 1,0 -2.60,0 M334.97,405.00 a1.3,1.3 0 1,0 2.60,0 a1.3,1.3 0 1,0 -2.60,0 M337.21,405.78 a1.3,1.3 0 1,0 2.60,0 a1.3,1.3 0 1,0 -2.60,0 M339.44,405.98 a1.3,1.3 0 1,0 2.60,0 a1.3,1.3 0 1,0 -2.60,0 M341.67,406.21 a1.3,1.3 0 1,0 2.60,0 a1.3,1.3 0 1,0 -2.60,0 M343.90,406.06 a1.3,1.3 0 1,0 2.60,0 a1.3,1.3 0 1,0 -2.60,0 M346.13,406.84 a1.3,1.3 0 1,0 2.60,0 a1.3,1.3 0 1,0 -2.60,0 M348.36,407.10 a1.3,1.3 0 1,0 2.60,0 a1.3,1.3 0 1,0 -2.60,0 M350.59,407.25 a1.3,1.3 0 1,0 2.60,0 a1.3,1.3 0 1,0 -2.60,0 M352.82,407.73 a1.3,1.3 0 1,0 2.60,0 a1.3,1.3 0 1,0 -2.60,0 M355.05,407.87 a1.3,1.3 0 1,0 2.60,0 a1.3,1.3 0 1,0 -2.60,0 M357.28,408.05 a1.3,1.3 0 1,0 2.60,0 a1.3,1.3 0 1,0 -2.60,0 M359.52,408.30 a1.3,1.3 0 1,0 2.60,0 a1.3,1.3 0 1,0 -2.60,0 M361.75,408.69 a1.3,1.3 0 1,0 2.60,0 a1.3,1.3 0 1,0 -2.60,0 M363.98,409.98 a1.3,1.3 0 1,0 2.60,0 a1.3,1.3 0 1,0 -2.60,0 M366.21,409.90 a1.3,1.3 0 1,0 2.60,0 a1.3,1.3 0 1,0 -2.60,0 M368.44,410.15 a1.3,1.3 0 1,0 2.60,0 a1.3,1.3 0 1,0 -2.60,0 M370.67,410.30 a1.3,1.3 0 1,0 2.60,0 a1.3,1.3 0 1,0 -2.60,0 M372.90,410.63 a1.3,1.3 0 1,0 2.60,0 a1.3,1.3 0 1,0 -2.60,0 M375.13,410.80 a1.3,1.3 0 1,0 2.60,0 a1.3,1.3 0 1,0 -2.60,0 M377.36,410.77 a1.3,1.3 0 1,0 2.60,0 a1.3,1.3 0 1,0 -2.60,0 M379.59,411.19 a1.3,1.3 0 1,0 2.60,0 a1.3,1.3 0 1,0 -2.60,0 M381.83,411.36 a1.3,1.3 0 1,0 2.60,0 a1.3,1.3 0 1,0 -2.60,0 M384.06,411.82 a1.3,1.3 0 1,0 2.60,0 a1.3,1.3 0 1,0 -2.60,0 M386.29,411.90 a1.3,1.3 0 1,0 2.60,0 a1.3,1.3 0 1,0 -2.60,0 M388.52,411.99 a1.3,1.3 0 1,0 2.60,0 a1.3,1.3 0 1,0 -2.60,0 M390.75,412.46 a1.3,1.3 0 1,0 2.60,0 a1.3,1.3 0 1,0 -2.60,0 M392.98,412.90 a1.3,1.3 0 1,0 2.60,0 a1.3,1.3 0 1,0 -2.60,0 M395.21,412.69 a1.3,1.3 0 1,0 2.60,0 a1.3,1.3 0 1,0 -2.60,0 M397.44,413.32 a1.3,1.3 0 1,0 2.60,0 a1.3,1.3 0 1,0 -2.60,0 M399.67,413.03 a1.3,1.3 0 1,0 2.60,0 a1.3,1.3 0 1,0 -2.60,0 M401.90,413.41 a1.3,1.3 0 1,0 2.60,0 a1.3,1.3 0 1,0 -2.60,0 M404.14,413.63 a1.3,1.3 0 1,0 2.60,0 a1.3,1.3 0 1,0 -2.60,0 M406.37,414.17 a1.3,1.3 0 1,0 2.60,0 a1.3,1.3 0 1,0 -2.60,0 M408.60,414.52 a1.3,1.3 0 1,0 2.60,0 a1.3,1.3 0 1,0 -2.60,0 M410.83,414.63 a1.3,1.3 0 1,0 2.60,0 a1.3,1.3 0 1,0 -2.60,0 M413.06,414.61 a1.3,1.3 0 1,0 2.60,0 a1.3,1.3 0 1,0 -2.60,0 M415.29,415.18 a1.3,1.3 0 1,0 2.60,0 a1.3,1.3 0 1,0 -2.60,0 M417.52,415.08 a1.3,1.3 0 1,0 2.60,0 a1.3,1.3 0 1,0 -2.60,0 M419.75,415.26 a1.3,1.3 0 1,0 2.60,0 a1.3,1.3 0 1,0 -2.60,0 M421.98,415.89 a1.3,1.3 0 1,0 2.60,0 a1.3,1.3 0 1,0 -2.60,0 M424.21,418.06 a1.3,1.3 0 1,0 2.60,0 a1.3,1.3 0 1,0 -2.60,0 M426.45,416.34 a1.3,1.3 0 1,0 2.60,0 a1.3,1.3 0 1,0 -2.60,0 M428.68,416.53 a1.3,1.3 0 1,0 2.60,0 a1.3,1.3 0 1,0 -2.60,0 M430.91,416.92 a1.3,1.3 0 1,0 2.60,0 a1.3,1.3 0 1,0 -2.60,0 M433.14,416.82 a1.3,1.3 0 1,0 2.60,0 a1.3,1.3 0 1,0 -2.60,0 M435.37,417.25 a1.3,1.3 0 1,0 2.60,0 a1.3,1.3 0 1,0 -2.60,0 M437.60,417.37 a1.3,1.3 0 1,0 2.60,0 a1.3,1.3 0 1,0 -2.60,0 M439.83,417.68 a1.3,1.3 0 1,0 2.60,0 a1.3,1.3 0 1,0 -2.60,0 M442.06,417.63 a1.3,1.3 0 1,0 2.60,0 a1.3,1.3 0 1,0 -2.60,0 M444.29,418.01 a1.3,1.3 0 1,0 2.60,0 a1.3,1.3 0 1,0 -2.60,0 M446.52,418.13 a1.3,1.3 0 1,0 2.60,0 a1.3,1.3 0 1,0 -2.60,0 M448.76,418.17 a1.3,1.3 0 1,0 2.60,0 a1.3,1.3 0 1,0 -2.60,0 M450.99,418.32 a1.3,1.3 0 1,0 2.60,0 a1.3,1.3 0 1,0 -2.60,0 M453.22,418.78 a1.3,1.3 0 1,0 2.60,0 a1.3,1.3 0 1,0 -2.60,0 M455.45,418.66 a1.3,1.3 0 1,0 2.60,0 a1.3,1.3 0 1,0 -2.60,0 M457.68,419.36 a1.3,1.3 0 1,0 2.60,0 a1.3,1.3 0 1,0 -2.60,0 M459.91,419.11 a1.3,1.3 0 1,0 2.60,0 a1.3,1.3 0 1,0 -2.60,0 M462.14,419.25 a1.3,1.3 0 1,0 2.60,0 a1.3,1.3 0 1,0 -2.60,0 M464.37,419.47 a1.3,1.3 0 1,0 2.60,0 a1.3,1.3 0 1,0 -2.60,0 M466.60,420.12 a1.3,1.3 0 1,0 2.60,0 a1.3,1.3 0 1,0 -2.60,0 M468.83,419.93 a1.3,1.3 0 1,0 2.60,0 a1.3,1.3 0 1,0 -2.60,0 M471.07,419.97 a1.3,1.3 0 1,0 2.60,0 a1.3,1.3 0 1,0 -2.60,0 M473.30,420.06 a1.3,1.3 0 1,0 2.60,0 a1.3,1.3 0 1,0 -2.60,0 M475.53,420.22 a1.3,1.3 0 1,0 2.60,0 a1.3,1.3 0 1,0 -2.60,0 M477.76,420.77 a1.3,1.3 0 1,0 2.60,0 a1.3,1.3 0 1,0 -2.60,0 M479.99,420.90 a1.3,1.3 0 1,0 2.60,0 a1.3,1.3 0 1,0 -2.60,0 M482.22,421.09 a1.3,1.3 0 1,0 2.60,0 a1.3,1.3 0 1,0 -2.60,0 M484.45,421.28 a1.3,1.3 0 1,0 2.60,0 a1.3,1.3 0 1,0 -2.60,0 M486.68,421.03 a1.3,1.3 0 1,0 2.60,0 a1.3,1.3 0 1,0 -2.60,0 M488.91,421.51 a1.3,1.3 0 1,0 2.60,0 a1.3,1.3 0 1,0 -2.60,0 M491.14,421.53 a1.3,1.3 0 1,0 2.60,0 a1.3,1.3 0 1,0 -2.60,0 M493.38,421.96 a1.3,1.3 0 1,0 2.60,0 a1.3,1.3 0 1,0 -2.60,0 M495.61,422.12 a1.3,1.3 0 1,0 2.60,0 a1.3,1.3 0 1,0 -2.60,0 M497.84,422.32 a1.3,1.3 0 1,0 2.60,0 a1.3,1.3 0 1,0 -2.60,0 M500.07,421.99 a1.3,1.3 0 1,0 2.60,0 a1.3,1.3 0 1,0 -2.60,0 M502.30,422.62 a1.3,1.3 0 1,0 2.60,0 a1.3,1.3 0 1,0 -2.60,0 " fill="none" stroke="#0A8CFF" stroke-width="0.9"/>
</svg></body></html>
